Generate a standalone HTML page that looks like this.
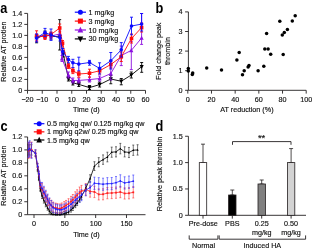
<!DOCTYPE html>
<html><head><meta charset="utf-8"><style>
html,body{margin:0;padding:0;background:#fff;}
svg{display:block;font-family:"Liberation Sans",sans-serif;will-change:transform;filter:blur(0.25px);}
</style></head><body>
<svg width="312" height="250" viewBox="0 0 312 250">
<rect width="312" height="250" fill="#fff"/>
<text x="0" y="0" font-size="14.5" font-weight="bold" fill="#000" transform="translate(0.2 12.6) scale(0.88 1)">a</text>
<line x1="27.60" y1="13.40" x2="27.60" y2="90.40" stroke="#231f20" stroke-width="0.9"/>
<line x1="27.60" y1="90.40" x2="145.50" y2="90.40" stroke="#231f20" stroke-width="0.9"/>
<line x1="24.30" y1="90.40" x2="27.60" y2="90.40" stroke="#231f20" stroke-width="0.9"/>
<text x="22.30" y="92.90" font-size="7.2" text-anchor="end" font-weight="normal" fill="#111" stroke="#111" stroke-width="0.15">0</text>
<line x1="24.30" y1="79.40" x2="27.60" y2="79.40" stroke="#231f20" stroke-width="0.9"/>
<text x="22.30" y="81.90" font-size="7.2" text-anchor="end" font-weight="normal" fill="#111" stroke="#111" stroke-width="0.15">0.2</text>
<line x1="24.30" y1="68.40" x2="27.60" y2="68.40" stroke="#231f20" stroke-width="0.9"/>
<text x="22.30" y="70.90" font-size="7.2" text-anchor="end" font-weight="normal" fill="#111" stroke="#111" stroke-width="0.15">0.4</text>
<line x1="24.30" y1="57.40" x2="27.60" y2="57.40" stroke="#231f20" stroke-width="0.9"/>
<text x="22.30" y="59.90" font-size="7.2" text-anchor="end" font-weight="normal" fill="#111" stroke="#111" stroke-width="0.15">0.6</text>
<line x1="24.30" y1="46.40" x2="27.60" y2="46.40" stroke="#231f20" stroke-width="0.9"/>
<text x="22.30" y="48.90" font-size="7.2" text-anchor="end" font-weight="normal" fill="#111" stroke="#111" stroke-width="0.15">0.8</text>
<line x1="24.30" y1="35.40" x2="27.60" y2="35.40" stroke="#231f20" stroke-width="0.9"/>
<text x="22.30" y="37.90" font-size="7.2" text-anchor="end" font-weight="normal" fill="#111" stroke="#111" stroke-width="0.15">1.0</text>
<line x1="24.30" y1="24.40" x2="27.60" y2="24.40" stroke="#231f20" stroke-width="0.9"/>
<text x="22.30" y="26.90" font-size="7.2" text-anchor="end" font-weight="normal" fill="#111" stroke="#111" stroke-width="0.15">1.2</text>
<line x1="24.30" y1="13.40" x2="27.60" y2="13.40" stroke="#231f20" stroke-width="0.9"/>
<text x="22.30" y="15.90" font-size="7.2" text-anchor="end" font-weight="normal" fill="#111" stroke="#111" stroke-width="0.15">1.4</text>
<line x1="27.50" y1="90.40" x2="27.50" y2="93.70" stroke="#231f20" stroke-width="0.9"/>
<text x="27.50" y="101.80" font-size="7.2" text-anchor="middle" font-weight="normal" fill="#111" stroke="#111" stroke-width="0.15">−20</text>
<line x1="42.25" y1="90.40" x2="42.25" y2="93.70" stroke="#231f20" stroke-width="0.9"/>
<text x="42.25" y="101.80" font-size="7.2" text-anchor="middle" font-weight="normal" fill="#111" stroke="#111" stroke-width="0.15">−10</text>
<line x1="57.00" y1="90.40" x2="57.00" y2="93.70" stroke="#231f20" stroke-width="0.9"/>
<text x="57.00" y="101.80" font-size="7.2" text-anchor="middle" font-weight="normal" fill="#111" stroke="#111" stroke-width="0.15">0</text>
<line x1="71.75" y1="90.40" x2="71.75" y2="93.70" stroke="#231f20" stroke-width="0.9"/>
<text x="71.75" y="101.80" font-size="7.2" text-anchor="middle" font-weight="normal" fill="#111" stroke="#111" stroke-width="0.15">10</text>
<line x1="86.50" y1="90.40" x2="86.50" y2="93.70" stroke="#231f20" stroke-width="0.9"/>
<text x="86.50" y="101.80" font-size="7.2" text-anchor="middle" font-weight="normal" fill="#111" stroke="#111" stroke-width="0.15">20</text>
<line x1="101.25" y1="90.40" x2="101.25" y2="93.70" stroke="#231f20" stroke-width="0.9"/>
<text x="101.25" y="101.80" font-size="7.2" text-anchor="middle" font-weight="normal" fill="#111" stroke="#111" stroke-width="0.15">30</text>
<line x1="116.00" y1="90.40" x2="116.00" y2="93.70" stroke="#231f20" stroke-width="0.9"/>
<text x="116.00" y="101.80" font-size="7.2" text-anchor="middle" font-weight="normal" fill="#111" stroke="#111" stroke-width="0.15">40</text>
<line x1="130.75" y1="90.40" x2="130.75" y2="93.70" stroke="#231f20" stroke-width="0.9"/>
<text x="130.75" y="101.80" font-size="7.2" text-anchor="middle" font-weight="normal" fill="#111" stroke="#111" stroke-width="0.15">50</text>
<line x1="145.50" y1="90.40" x2="145.50" y2="93.70" stroke="#231f20" stroke-width="0.9"/>
<text x="145.50" y="101.80" font-size="7.2" text-anchor="middle" font-weight="normal" fill="#111" stroke="#111" stroke-width="0.15">60</text>
<text x="86.30" y="111.50" font-size="7.2" text-anchor="middle" font-weight="normal" fill="#111" stroke="#111" stroke-width="0.15">Time (d)</text>
<text x="6.00" y="51.60" font-size="7.2" text-anchor="middle" font-weight="normal" fill="#111" stroke="#111" stroke-width="0.15" transform="rotate(-90 6.0 51.6)">Relative AT protien</text>
<line x1="74.80" y1="12.20" x2="86.00" y2="12.20" stroke="#0a0aff" stroke-width="1.2"/>
<circle cx="80.40" cy="12.20" r="2.5" fill="#0a0aff"/>
<text x="88.60" y="14.70" font-size="7.2" text-anchor="start" font-weight="normal" fill="#111" stroke="#111" stroke-width="0.15">1 mg/kg</text>
<line x1="74.80" y1="21.10" x2="86.00" y2="21.10" stroke="#ff0a0a" stroke-width="1.2"/>
<rect x="77.90" y="18.60" width="5.00" height="5.00" fill="#ff0a0a"/>
<text x="88.60" y="23.60" font-size="7.2" text-anchor="start" font-weight="normal" fill="#111" stroke="#111" stroke-width="0.15">3 mg/kg</text>
<line x1="74.80" y1="30.00" x2="86.00" y2="30.00" stroke="#8c10e0" stroke-width="1.2"/>
<polygon points="80.40,26.75 83.28,32.50 77.53,32.50" fill="#8c10e0"/>
<text x="88.60" y="32.50" font-size="7.2" text-anchor="start" font-weight="normal" fill="#111" stroke="#111" stroke-width="0.15">10 mg/kg</text>
<line x1="74.80" y1="38.90" x2="86.00" y2="38.90" stroke="#000000" stroke-width="1.2"/>
<polygon points="80.40,42.15 83.28,36.40 77.53,36.40" fill="#000000"/>
<text x="88.60" y="41.40" font-size="7.2" text-anchor="start" font-weight="normal" fill="#111" stroke="#111" stroke-width="0.15">30 mg/kg</text>
<line x1="36.60" y1="35.00" x2="36.60" y2="42.80" stroke="#000000" stroke-width="0.9"/>
<line x1="35.10" y1="35.00" x2="38.10" y2="35.00" stroke="#000000" stroke-width="0.9"/>
<line x1="35.10" y1="42.80" x2="38.10" y2="42.80" stroke="#000000" stroke-width="0.9"/>
<line x1="45.00" y1="31.00" x2="45.00" y2="38.00" stroke="#000000" stroke-width="0.9"/>
<line x1="43.50" y1="31.00" x2="46.50" y2="31.00" stroke="#000000" stroke-width="0.9"/>
<line x1="43.50" y1="38.00" x2="46.50" y2="38.00" stroke="#000000" stroke-width="0.9"/>
<line x1="51.00" y1="33.00" x2="51.00" y2="39.00" stroke="#000000" stroke-width="0.9"/>
<line x1="49.50" y1="33.00" x2="52.50" y2="33.00" stroke="#000000" stroke-width="0.9"/>
<line x1="49.50" y1="39.00" x2="52.50" y2="39.00" stroke="#000000" stroke-width="0.9"/>
<line x1="59.70" y1="19.60" x2="59.70" y2="50.00" stroke="#000000" stroke-width="0.9"/>
<line x1="58.20" y1="19.60" x2="61.20" y2="19.60" stroke="#000000" stroke-width="0.9"/>
<line x1="58.20" y1="50.00" x2="61.20" y2="50.00" stroke="#000000" stroke-width="0.9"/>
<line x1="63.30" y1="51.00" x2="63.30" y2="57.00" stroke="#000000" stroke-width="0.9"/>
<line x1="61.80" y1="51.00" x2="64.80" y2="51.00" stroke="#000000" stroke-width="0.9"/>
<line x1="61.80" y1="57.00" x2="64.80" y2="57.00" stroke="#000000" stroke-width="0.9"/>
<line x1="68.40" y1="76.50" x2="68.40" y2="81.00" stroke="#000000" stroke-width="0.9"/>
<line x1="66.90" y1="76.50" x2="69.90" y2="76.50" stroke="#000000" stroke-width="0.9"/>
<line x1="66.90" y1="81.00" x2="69.90" y2="81.00" stroke="#000000" stroke-width="0.9"/>
<line x1="72.90" y1="80.50" x2="72.90" y2="85.00" stroke="#000000" stroke-width="0.9"/>
<line x1="71.40" y1="80.50" x2="74.40" y2="80.50" stroke="#000000" stroke-width="0.9"/>
<line x1="71.40" y1="85.00" x2="74.40" y2="85.00" stroke="#000000" stroke-width="0.9"/>
<line x1="78.80" y1="82.00" x2="78.80" y2="86.50" stroke="#000000" stroke-width="0.9"/>
<line x1="77.30" y1="82.00" x2="80.30" y2="82.00" stroke="#000000" stroke-width="0.9"/>
<line x1="77.30" y1="86.50" x2="80.30" y2="86.50" stroke="#000000" stroke-width="0.9"/>
<line x1="89.50" y1="85.50" x2="89.50" y2="89.50" stroke="#000000" stroke-width="0.9"/>
<line x1="88.00" y1="85.50" x2="91.00" y2="85.50" stroke="#000000" stroke-width="0.9"/>
<line x1="88.00" y1="89.50" x2="91.00" y2="89.50" stroke="#000000" stroke-width="0.9"/>
<line x1="99.60" y1="82.00" x2="99.60" y2="87.00" stroke="#000000" stroke-width="0.9"/>
<line x1="98.10" y1="82.00" x2="101.10" y2="82.00" stroke="#000000" stroke-width="0.9"/>
<line x1="98.10" y1="87.00" x2="101.10" y2="87.00" stroke="#000000" stroke-width="0.9"/>
<line x1="110.80" y1="75.40" x2="110.80" y2="83.75" stroke="#000000" stroke-width="0.9"/>
<line x1="109.30" y1="75.40" x2="112.30" y2="75.40" stroke="#000000" stroke-width="0.9"/>
<line x1="109.30" y1="83.75" x2="112.30" y2="83.75" stroke="#000000" stroke-width="0.9"/>
<line x1="121.25" y1="78.50" x2="121.25" y2="84.80" stroke="#000000" stroke-width="0.9"/>
<line x1="119.75" y1="78.50" x2="122.75" y2="78.50" stroke="#000000" stroke-width="0.9"/>
<line x1="119.75" y1="84.80" x2="122.75" y2="84.80" stroke="#000000" stroke-width="0.9"/>
<line x1="131.30" y1="72.00" x2="131.30" y2="78.00" stroke="#000000" stroke-width="0.9"/>
<line x1="129.80" y1="72.00" x2="132.80" y2="72.00" stroke="#000000" stroke-width="0.9"/>
<line x1="129.80" y1="78.00" x2="132.80" y2="78.00" stroke="#000000" stroke-width="0.9"/>
<line x1="141.70" y1="62.50" x2="141.70" y2="72.30" stroke="#000000" stroke-width="0.9"/>
<line x1="140.20" y1="62.50" x2="143.20" y2="62.50" stroke="#000000" stroke-width="0.9"/>
<line x1="140.20" y1="72.30" x2="143.20" y2="72.30" stroke="#000000" stroke-width="0.9"/>
<polyline points="36.60,38.50 45.00,34.50 51.00,36.00 59.70,37.00 63.30,54.00 68.40,78.80 72.90,82.80 78.80,84.40 89.50,87.60 99.60,84.60 110.80,79.00 121.25,81.25 131.30,75.00 141.70,66.70" fill="none" stroke="#000000" stroke-width="0.9" stroke-linejoin="round"/>
<polygon points="36.60,40.84 38.67,36.70 34.53,36.70" fill="#000000"/>
<polygon points="45.00,36.84 47.07,32.70 42.93,32.70" fill="#000000"/>
<polygon points="51.00,38.34 53.07,34.20 48.93,34.20" fill="#000000"/>
<polygon points="59.70,39.34 61.77,35.20 57.63,35.20" fill="#000000"/>
<polygon points="63.30,56.34 65.37,52.20 61.23,52.20" fill="#000000"/>
<polygon points="68.40,81.14 70.47,77.00 66.33,77.00" fill="#000000"/>
<polygon points="72.90,85.14 74.97,81.00 70.83,81.00" fill="#000000"/>
<polygon points="78.80,86.74 80.87,82.60 76.73,82.60" fill="#000000"/>
<polygon points="89.50,89.94 91.57,85.80 87.43,85.80" fill="#000000"/>
<polygon points="99.60,86.94 101.67,82.80 97.53,82.80" fill="#000000"/>
<polygon points="110.80,81.34 112.87,77.20 108.73,77.20" fill="#000000"/>
<polygon points="121.25,83.59 123.32,79.45 119.18,79.45" fill="#000000"/>
<polygon points="131.30,77.34 133.37,73.20 129.23,73.20" fill="#000000"/>
<polygon points="141.70,69.04 143.77,64.90 139.63,64.90" fill="#000000"/>
<line x1="36.60" y1="34.00" x2="36.60" y2="41.00" stroke="#8c10e0" stroke-width="0.9"/>
<line x1="35.10" y1="34.00" x2="38.10" y2="34.00" stroke="#8c10e0" stroke-width="0.9"/>
<line x1="35.10" y1="41.00" x2="38.10" y2="41.00" stroke="#8c10e0" stroke-width="0.9"/>
<line x1="45.00" y1="32.00" x2="45.00" y2="38.00" stroke="#8c10e0" stroke-width="0.9"/>
<line x1="43.50" y1="32.00" x2="46.50" y2="32.00" stroke="#8c10e0" stroke-width="0.9"/>
<line x1="43.50" y1="38.00" x2="46.50" y2="38.00" stroke="#8c10e0" stroke-width="0.9"/>
<line x1="51.00" y1="33.00" x2="51.00" y2="39.00" stroke="#8c10e0" stroke-width="0.9"/>
<line x1="49.50" y1="33.00" x2="52.50" y2="33.00" stroke="#8c10e0" stroke-width="0.9"/>
<line x1="49.50" y1="39.00" x2="52.50" y2="39.00" stroke="#8c10e0" stroke-width="0.9"/>
<line x1="59.70" y1="31.00" x2="59.70" y2="37.00" stroke="#8c10e0" stroke-width="0.9"/>
<line x1="58.20" y1="31.00" x2="61.20" y2="31.00" stroke="#8c10e0" stroke-width="0.9"/>
<line x1="58.20" y1="37.00" x2="61.20" y2="37.00" stroke="#8c10e0" stroke-width="0.9"/>
<line x1="62.00" y1="55.50" x2="62.00" y2="61.50" stroke="#8c10e0" stroke-width="0.9"/>
<line x1="60.50" y1="55.50" x2="63.50" y2="55.50" stroke="#8c10e0" stroke-width="0.9"/>
<line x1="60.50" y1="61.50" x2="63.50" y2="61.50" stroke="#8c10e0" stroke-width="0.9"/>
<line x1="68.40" y1="72.00" x2="68.40" y2="78.00" stroke="#8c10e0" stroke-width="0.9"/>
<line x1="66.90" y1="72.00" x2="69.90" y2="72.00" stroke="#8c10e0" stroke-width="0.9"/>
<line x1="66.90" y1="78.00" x2="69.90" y2="78.00" stroke="#8c10e0" stroke-width="0.9"/>
<line x1="72.90" y1="78.00" x2="72.90" y2="83.00" stroke="#8c10e0" stroke-width="0.9"/>
<line x1="71.40" y1="78.00" x2="74.40" y2="78.00" stroke="#8c10e0" stroke-width="0.9"/>
<line x1="71.40" y1="83.00" x2="74.40" y2="83.00" stroke="#8c10e0" stroke-width="0.9"/>
<line x1="78.80" y1="78.00" x2="78.80" y2="83.00" stroke="#8c10e0" stroke-width="0.9"/>
<line x1="77.30" y1="78.00" x2="80.30" y2="78.00" stroke="#8c10e0" stroke-width="0.9"/>
<line x1="77.30" y1="83.00" x2="80.30" y2="83.00" stroke="#8c10e0" stroke-width="0.9"/>
<line x1="89.50" y1="77.00" x2="89.50" y2="82.00" stroke="#8c10e0" stroke-width="0.9"/>
<line x1="88.00" y1="77.00" x2="91.00" y2="77.00" stroke="#8c10e0" stroke-width="0.9"/>
<line x1="88.00" y1="82.00" x2="91.00" y2="82.00" stroke="#8c10e0" stroke-width="0.9"/>
<line x1="99.60" y1="76.00" x2="99.60" y2="81.00" stroke="#8c10e0" stroke-width="0.9"/>
<line x1="98.10" y1="76.00" x2="101.10" y2="76.00" stroke="#8c10e0" stroke-width="0.9"/>
<line x1="98.10" y1="81.00" x2="101.10" y2="81.00" stroke="#8c10e0" stroke-width="0.9"/>
<line x1="110.80" y1="67.00" x2="110.80" y2="80.00" stroke="#8c10e0" stroke-width="0.9"/>
<line x1="109.30" y1="67.00" x2="112.30" y2="67.00" stroke="#8c10e0" stroke-width="0.9"/>
<line x1="109.30" y1="80.00" x2="112.30" y2="80.00" stroke="#8c10e0" stroke-width="0.9"/>
<line x1="121.25" y1="46.00" x2="121.25" y2="65.60" stroke="#8c10e0" stroke-width="0.9"/>
<line x1="119.75" y1="46.00" x2="122.75" y2="46.00" stroke="#8c10e0" stroke-width="0.9"/>
<line x1="119.75" y1="65.60" x2="122.75" y2="65.60" stroke="#8c10e0" stroke-width="0.9"/>
<line x1="131.30" y1="41.60" x2="131.30" y2="69.60" stroke="#8c10e0" stroke-width="0.9"/>
<line x1="129.80" y1="41.60" x2="132.80" y2="41.60" stroke="#8c10e0" stroke-width="0.9"/>
<line x1="129.80" y1="69.60" x2="132.80" y2="69.60" stroke="#8c10e0" stroke-width="0.9"/>
<line x1="141.60" y1="13.50" x2="141.60" y2="44.40" stroke="#8c10e0" stroke-width="0.9"/>
<line x1="140.10" y1="13.50" x2="143.10" y2="13.50" stroke="#8c10e0" stroke-width="0.9"/>
<line x1="140.10" y1="44.40" x2="143.10" y2="44.40" stroke="#8c10e0" stroke-width="0.9"/>
<polyline points="36.60,37.50 45.00,35.00 51.00,36.00 59.70,34.00 62.00,58.60 68.40,75.00 72.90,80.50 78.80,80.40 89.50,79.60 99.60,78.50 110.80,73.60 121.25,55.50 131.30,50.40 141.60,38.00" fill="none" stroke="#8c10e0" stroke-width="0.9" stroke-linejoin="round"/>
<polygon points="36.60,35.16 38.67,39.30 34.53,39.30" fill="#8c10e0"/>
<polygon points="45.00,32.66 47.07,36.80 42.93,36.80" fill="#8c10e0"/>
<polygon points="51.00,33.66 53.07,37.80 48.93,37.80" fill="#8c10e0"/>
<polygon points="59.70,31.66 61.77,35.80 57.63,35.80" fill="#8c10e0"/>
<polygon points="62.00,56.26 64.07,60.40 59.93,60.40" fill="#8c10e0"/>
<polygon points="68.40,72.66 70.47,76.80 66.33,76.80" fill="#8c10e0"/>
<polygon points="72.90,78.16 74.97,82.30 70.83,82.30" fill="#8c10e0"/>
<polygon points="78.80,78.06 80.87,82.20 76.73,82.20" fill="#8c10e0"/>
<polygon points="89.50,77.26 91.57,81.40 87.43,81.40" fill="#8c10e0"/>
<polygon points="99.60,76.16 101.67,80.30 97.53,80.30" fill="#8c10e0"/>
<polygon points="110.80,71.26 112.87,75.40 108.73,75.40" fill="#8c10e0"/>
<polygon points="121.25,53.16 123.32,57.30 119.18,57.30" fill="#8c10e0"/>
<polygon points="131.30,48.06 133.37,52.20 129.23,52.20" fill="#8c10e0"/>
<polygon points="141.60,35.66 143.67,39.80 139.53,39.80" fill="#8c10e0"/>
<line x1="36.60" y1="30.80" x2="36.60" y2="41.00" stroke="#ff0a0a" stroke-width="0.9"/>
<line x1="35.10" y1="30.80" x2="38.10" y2="30.80" stroke="#ff0a0a" stroke-width="0.9"/>
<line x1="35.10" y1="41.00" x2="38.10" y2="41.00" stroke="#ff0a0a" stroke-width="0.9"/>
<line x1="45.00" y1="34.00" x2="45.00" y2="39.50" stroke="#ff0a0a" stroke-width="0.9"/>
<line x1="43.50" y1="34.00" x2="46.50" y2="34.00" stroke="#ff0a0a" stroke-width="0.9"/>
<line x1="43.50" y1="39.50" x2="46.50" y2="39.50" stroke="#ff0a0a" stroke-width="0.9"/>
<line x1="51.00" y1="32.00" x2="51.00" y2="37.00" stroke="#ff0a0a" stroke-width="0.9"/>
<line x1="49.50" y1="32.00" x2="52.50" y2="32.00" stroke="#ff0a0a" stroke-width="0.9"/>
<line x1="49.50" y1="37.00" x2="52.50" y2="37.00" stroke="#ff0a0a" stroke-width="0.9"/>
<line x1="59.70" y1="24.00" x2="59.70" y2="32.00" stroke="#ff0a0a" stroke-width="0.9"/>
<line x1="58.20" y1="24.00" x2="61.20" y2="24.00" stroke="#ff0a0a" stroke-width="0.9"/>
<line x1="58.20" y1="32.00" x2="61.20" y2="32.00" stroke="#ff0a0a" stroke-width="0.9"/>
<line x1="62.50" y1="40.50" x2="62.50" y2="46.00" stroke="#ff0a0a" stroke-width="0.9"/>
<line x1="61.00" y1="40.50" x2="64.00" y2="40.50" stroke="#ff0a0a" stroke-width="0.9"/>
<line x1="61.00" y1="46.00" x2="64.00" y2="46.00" stroke="#ff0a0a" stroke-width="0.9"/>
<line x1="68.40" y1="63.60" x2="68.40" y2="68.50" stroke="#ff0a0a" stroke-width="0.9"/>
<line x1="66.90" y1="63.60" x2="69.90" y2="63.60" stroke="#ff0a0a" stroke-width="0.9"/>
<line x1="66.90" y1="68.50" x2="69.90" y2="68.50" stroke="#ff0a0a" stroke-width="0.9"/>
<line x1="72.90" y1="68.00" x2="72.90" y2="73.60" stroke="#ff0a0a" stroke-width="0.9"/>
<line x1="71.40" y1="68.00" x2="74.40" y2="68.00" stroke="#ff0a0a" stroke-width="0.9"/>
<line x1="71.40" y1="73.60" x2="74.40" y2="73.60" stroke="#ff0a0a" stroke-width="0.9"/>
<line x1="78.80" y1="71.60" x2="78.80" y2="77.20" stroke="#ff0a0a" stroke-width="0.9"/>
<line x1="77.30" y1="71.60" x2="80.30" y2="71.60" stroke="#ff0a0a" stroke-width="0.9"/>
<line x1="77.30" y1="77.20" x2="80.30" y2="77.20" stroke="#ff0a0a" stroke-width="0.9"/>
<line x1="89.50" y1="69.20" x2="89.50" y2="77.20" stroke="#ff0a0a" stroke-width="0.9"/>
<line x1="88.00" y1="69.20" x2="91.00" y2="69.20" stroke="#ff0a0a" stroke-width="0.9"/>
<line x1="88.00" y1="77.20" x2="91.00" y2="77.20" stroke="#ff0a0a" stroke-width="0.9"/>
<line x1="99.60" y1="67.50" x2="99.60" y2="74.00" stroke="#ff0a0a" stroke-width="0.9"/>
<line x1="98.10" y1="67.50" x2="101.10" y2="67.50" stroke="#ff0a0a" stroke-width="0.9"/>
<line x1="98.10" y1="74.00" x2="101.10" y2="74.00" stroke="#ff0a0a" stroke-width="0.9"/>
<line x1="110.80" y1="61.00" x2="110.80" y2="68.00" stroke="#ff0a0a" stroke-width="0.9"/>
<line x1="109.30" y1="61.00" x2="112.30" y2="61.00" stroke="#ff0a0a" stroke-width="0.9"/>
<line x1="109.30" y1="68.00" x2="112.30" y2="68.00" stroke="#ff0a0a" stroke-width="0.9"/>
<line x1="121.25" y1="52.00" x2="121.25" y2="61.50" stroke="#ff0a0a" stroke-width="0.9"/>
<line x1="119.75" y1="52.00" x2="122.75" y2="52.00" stroke="#ff0a0a" stroke-width="0.9"/>
<line x1="119.75" y1="61.50" x2="122.75" y2="61.50" stroke="#ff0a0a" stroke-width="0.9"/>
<line x1="131.50" y1="34.00" x2="131.50" y2="43.00" stroke="#ff0a0a" stroke-width="0.9"/>
<line x1="130.00" y1="34.00" x2="133.00" y2="34.00" stroke="#ff0a0a" stroke-width="0.9"/>
<line x1="130.00" y1="43.00" x2="133.00" y2="43.00" stroke="#ff0a0a" stroke-width="0.9"/>
<line x1="141.60" y1="23.00" x2="141.60" y2="32.00" stroke="#ff0a0a" stroke-width="0.9"/>
<line x1="140.10" y1="23.00" x2="143.10" y2="23.00" stroke="#ff0a0a" stroke-width="0.9"/>
<line x1="140.10" y1="32.00" x2="143.10" y2="32.00" stroke="#ff0a0a" stroke-width="0.9"/>
<polyline points="36.60,36.00 45.00,36.80 51.00,34.50 59.70,28.00 62.50,43.20 68.40,66.00 72.90,70.80 78.80,74.00 89.50,73.20 99.60,70.80 110.80,64.50 121.25,56.80 131.50,38.50 141.60,27.60" fill="none" stroke="#ff0a0a" stroke-width="0.9" stroke-linejoin="round"/>
<rect x="34.80" y="34.20" width="3.60" height="3.60" fill="#ff0a0a"/>
<rect x="43.20" y="35.00" width="3.60" height="3.60" fill="#ff0a0a"/>
<rect x="49.20" y="32.70" width="3.60" height="3.60" fill="#ff0a0a"/>
<rect x="57.90" y="26.20" width="3.60" height="3.60" fill="#ff0a0a"/>
<rect x="60.70" y="41.40" width="3.60" height="3.60" fill="#ff0a0a"/>
<rect x="66.60" y="64.20" width="3.60" height="3.60" fill="#ff0a0a"/>
<rect x="71.10" y="69.00" width="3.60" height="3.60" fill="#ff0a0a"/>
<rect x="77.00" y="72.20" width="3.60" height="3.60" fill="#ff0a0a"/>
<rect x="87.70" y="71.40" width="3.60" height="3.60" fill="#ff0a0a"/>
<rect x="97.80" y="69.00" width="3.60" height="3.60" fill="#ff0a0a"/>
<rect x="109.00" y="62.70" width="3.60" height="3.60" fill="#ff0a0a"/>
<rect x="119.45" y="55.00" width="3.60" height="3.60" fill="#ff0a0a"/>
<rect x="129.70" y="36.70" width="3.60" height="3.60" fill="#ff0a0a"/>
<rect x="139.80" y="25.80" width="3.60" height="3.60" fill="#ff0a0a"/>
<line x1="36.60" y1="34.00" x2="36.60" y2="42.00" stroke="#0a0aff" stroke-width="0.9"/>
<line x1="35.10" y1="34.00" x2="38.10" y2="34.00" stroke="#0a0aff" stroke-width="0.9"/>
<line x1="35.10" y1="42.00" x2="38.10" y2="42.00" stroke="#0a0aff" stroke-width="0.9"/>
<line x1="45.00" y1="28.40" x2="45.00" y2="36.50" stroke="#0a0aff" stroke-width="0.9"/>
<line x1="43.50" y1="28.40" x2="46.50" y2="28.40" stroke="#0a0aff" stroke-width="0.9"/>
<line x1="43.50" y1="36.50" x2="46.50" y2="36.50" stroke="#0a0aff" stroke-width="0.9"/>
<line x1="51.00" y1="29.00" x2="51.00" y2="40.40" stroke="#0a0aff" stroke-width="0.9"/>
<line x1="49.50" y1="29.00" x2="52.50" y2="29.00" stroke="#0a0aff" stroke-width="0.9"/>
<line x1="49.50" y1="40.40" x2="52.50" y2="40.40" stroke="#0a0aff" stroke-width="0.9"/>
<line x1="60.00" y1="35.00" x2="60.00" y2="41.00" stroke="#0a0aff" stroke-width="0.9"/>
<line x1="58.50" y1="35.00" x2="61.50" y2="35.00" stroke="#0a0aff" stroke-width="0.9"/>
<line x1="58.50" y1="41.00" x2="61.50" y2="41.00" stroke="#0a0aff" stroke-width="0.9"/>
<line x1="62.80" y1="48.50" x2="62.80" y2="55.00" stroke="#0a0aff" stroke-width="0.9"/>
<line x1="61.30" y1="48.50" x2="64.30" y2="48.50" stroke="#0a0aff" stroke-width="0.9"/>
<line x1="61.30" y1="55.00" x2="64.30" y2="55.00" stroke="#0a0aff" stroke-width="0.9"/>
<line x1="68.40" y1="56.40" x2="68.40" y2="62.80" stroke="#0a0aff" stroke-width="0.9"/>
<line x1="66.90" y1="56.40" x2="69.90" y2="56.40" stroke="#0a0aff" stroke-width="0.9"/>
<line x1="66.90" y1="62.80" x2="69.90" y2="62.80" stroke="#0a0aff" stroke-width="0.9"/>
<line x1="72.90" y1="59.30" x2="72.90" y2="67.60" stroke="#0a0aff" stroke-width="0.9"/>
<line x1="71.40" y1="59.30" x2="74.40" y2="59.30" stroke="#0a0aff" stroke-width="0.9"/>
<line x1="71.40" y1="67.60" x2="74.40" y2="67.60" stroke="#0a0aff" stroke-width="0.9"/>
<line x1="78.80" y1="57.20" x2="78.80" y2="70.80" stroke="#0a0aff" stroke-width="0.9"/>
<line x1="77.30" y1="57.20" x2="80.30" y2="57.20" stroke="#0a0aff" stroke-width="0.9"/>
<line x1="77.30" y1="70.80" x2="80.30" y2="70.80" stroke="#0a0aff" stroke-width="0.9"/>
<line x1="89.50" y1="60.40" x2="89.50" y2="65.20" stroke="#0a0aff" stroke-width="0.9"/>
<line x1="88.00" y1="60.40" x2="91.00" y2="60.40" stroke="#0a0aff" stroke-width="0.9"/>
<line x1="88.00" y1="65.20" x2="91.00" y2="65.20" stroke="#0a0aff" stroke-width="0.9"/>
<line x1="99.60" y1="62.80" x2="99.60" y2="74.00" stroke="#0a0aff" stroke-width="0.9"/>
<line x1="98.10" y1="62.80" x2="101.10" y2="62.80" stroke="#0a0aff" stroke-width="0.9"/>
<line x1="98.10" y1="74.00" x2="101.10" y2="74.00" stroke="#0a0aff" stroke-width="0.9"/>
<line x1="110.80" y1="52.50" x2="110.80" y2="69.00" stroke="#0a0aff" stroke-width="0.9"/>
<line x1="109.30" y1="52.50" x2="112.30" y2="52.50" stroke="#0a0aff" stroke-width="0.9"/>
<line x1="109.30" y1="69.00" x2="112.30" y2="69.00" stroke="#0a0aff" stroke-width="0.9"/>
<line x1="121.25" y1="42.60" x2="121.25" y2="57.00" stroke="#0a0aff" stroke-width="0.9"/>
<line x1="119.75" y1="42.60" x2="122.75" y2="42.60" stroke="#0a0aff" stroke-width="0.9"/>
<line x1="119.75" y1="57.00" x2="122.75" y2="57.00" stroke="#0a0aff" stroke-width="0.9"/>
<line x1="131.50" y1="17.20" x2="131.50" y2="34.80" stroke="#0a0aff" stroke-width="0.9"/>
<line x1="130.00" y1="17.20" x2="133.00" y2="17.20" stroke="#0a0aff" stroke-width="0.9"/>
<line x1="130.00" y1="34.80" x2="133.00" y2="34.80" stroke="#0a0aff" stroke-width="0.9"/>
<line x1="141.60" y1="13.50" x2="141.60" y2="31.00" stroke="#0a0aff" stroke-width="0.9"/>
<line x1="140.10" y1="13.50" x2="143.10" y2="13.50" stroke="#0a0aff" stroke-width="0.9"/>
<line x1="140.10" y1="31.00" x2="143.10" y2="31.00" stroke="#0a0aff" stroke-width="0.9"/>
<polyline points="36.60,38.00 45.00,32.50 51.00,35.00 60.00,38.00 62.80,51.60 68.40,59.60 72.90,62.80 78.80,64.10 89.50,62.50 99.60,68.40 110.80,60.80 121.25,49.80 131.50,26.00 141.60,24.10" fill="none" stroke="#0a0aff" stroke-width="0.9" stroke-linejoin="round"/>
<circle cx="36.60" cy="38.00" r="1.8" fill="#0a0aff"/>
<circle cx="45.00" cy="32.50" r="1.8" fill="#0a0aff"/>
<circle cx="51.00" cy="35.00" r="1.8" fill="#0a0aff"/>
<circle cx="60.00" cy="38.00" r="1.8" fill="#0a0aff"/>
<circle cx="62.80" cy="51.60" r="1.8" fill="#0a0aff"/>
<circle cx="68.40" cy="59.60" r="1.8" fill="#0a0aff"/>
<circle cx="72.90" cy="62.80" r="1.8" fill="#0a0aff"/>
<circle cx="78.80" cy="64.10" r="1.8" fill="#0a0aff"/>
<circle cx="89.50" cy="62.50" r="1.8" fill="#0a0aff"/>
<circle cx="99.60" cy="68.40" r="1.8" fill="#0a0aff"/>
<circle cx="110.80" cy="60.80" r="1.8" fill="#0a0aff"/>
<circle cx="121.25" cy="49.80" r="1.8" fill="#0a0aff"/>
<circle cx="131.50" cy="26.00" r="1.8" fill="#0a0aff"/>
<circle cx="141.60" cy="24.10" r="1.8" fill="#0a0aff"/>
<text x="0" y="0" font-size="14.5" font-weight="bold" fill="#000" transform="translate(155.6 12.6) scale(0.88 1)">b</text>
<line x1="188.40" y1="11.90" x2="188.40" y2="90.30" stroke="#231f20" stroke-width="0.9"/>
<line x1="188.40" y1="90.30" x2="306.20" y2="90.30" stroke="#231f20" stroke-width="0.9"/>
<line x1="185.10" y1="90.30" x2="188.40" y2="90.30" stroke="#231f20" stroke-width="0.9"/>
<text x="182.50" y="92.80" font-size="7.2" text-anchor="end" font-weight="normal" fill="#111" stroke="#111" stroke-width="0.15">0</text>
<line x1="185.10" y1="70.70" x2="188.40" y2="70.70" stroke="#231f20" stroke-width="0.9"/>
<text x="182.50" y="73.20" font-size="7.2" text-anchor="end" font-weight="normal" fill="#111" stroke="#111" stroke-width="0.15">1</text>
<line x1="185.10" y1="51.10" x2="188.40" y2="51.10" stroke="#231f20" stroke-width="0.9"/>
<text x="182.50" y="53.60" font-size="7.2" text-anchor="end" font-weight="normal" fill="#111" stroke="#111" stroke-width="0.15">2</text>
<line x1="185.10" y1="31.50" x2="188.40" y2="31.50" stroke="#231f20" stroke-width="0.9"/>
<text x="182.50" y="34.00" font-size="7.2" text-anchor="end" font-weight="normal" fill="#111" stroke="#111" stroke-width="0.15">3</text>
<line x1="185.10" y1="11.90" x2="188.40" y2="11.90" stroke="#231f20" stroke-width="0.9"/>
<text x="182.50" y="14.40" font-size="7.2" text-anchor="end" font-weight="normal" fill="#111" stroke="#111" stroke-width="0.15">4</text>
<line x1="187.80" y1="90.30" x2="187.80" y2="93.60" stroke="#231f20" stroke-width="0.9"/>
<text x="187.80" y="101.80" font-size="7.2" text-anchor="middle" font-weight="normal" fill="#111" stroke="#111" stroke-width="0.15">0</text>
<line x1="211.48" y1="90.30" x2="211.48" y2="93.60" stroke="#231f20" stroke-width="0.9"/>
<text x="211.48" y="101.80" font-size="7.2" text-anchor="middle" font-weight="normal" fill="#111" stroke="#111" stroke-width="0.15">20</text>
<line x1="235.16" y1="90.30" x2="235.16" y2="93.60" stroke="#231f20" stroke-width="0.9"/>
<text x="235.16" y="101.80" font-size="7.2" text-anchor="middle" font-weight="normal" fill="#111" stroke="#111" stroke-width="0.15">40</text>
<line x1="258.84" y1="90.30" x2="258.84" y2="93.60" stroke="#231f20" stroke-width="0.9"/>
<text x="258.84" y="101.80" font-size="7.2" text-anchor="middle" font-weight="normal" fill="#111" stroke="#111" stroke-width="0.15">60</text>
<line x1="282.52" y1="90.30" x2="282.52" y2="93.60" stroke="#231f20" stroke-width="0.9"/>
<text x="282.52" y="101.80" font-size="7.2" text-anchor="middle" font-weight="normal" fill="#111" stroke="#111" stroke-width="0.15">80</text>
<line x1="306.20" y1="90.30" x2="306.20" y2="93.60" stroke="#231f20" stroke-width="0.9"/>
<text x="306.20" y="101.80" font-size="7.2" text-anchor="middle" font-weight="normal" fill="#111" stroke="#111" stroke-width="0.15">100</text>
<text x="246.90" y="111.50" font-size="7.2" text-anchor="middle" font-weight="normal" fill="#111" stroke="#111" stroke-width="0.15">AT reduction (%)</text>
<text x="161.50" y="51.10" font-size="7.2" text-anchor="middle" font-weight="normal" fill="#111" stroke="#111" stroke-width="0.15" transform="rotate(-90 161.5 51.1)">Fold change peak</text>
<text x="169.80" y="51.10" font-size="7.2" text-anchor="middle" font-weight="normal" fill="#111" stroke="#111" stroke-width="0.15" transform="rotate(-90 169.8 51.1)">thrombin</text>
<circle cx="188.3" cy="68.5" r="1.75" fill="#000"/>
<circle cx="188.3" cy="71" r="1.75" fill="#000"/>
<circle cx="192.7" cy="72.9" r="1.75" fill="#000"/>
<circle cx="192.3" cy="74.4" r="1.75" fill="#000"/>
<circle cx="206.7" cy="68.1" r="1.75" fill="#000"/>
<circle cx="221.5" cy="70" r="1.75" fill="#000"/>
<circle cx="239.2" cy="52.4" r="1.75" fill="#000"/>
<circle cx="236.9" cy="59.9" r="1.75" fill="#000"/>
<circle cx="242.5" cy="74.7" r="1.75" fill="#000"/>
<circle cx="244.2" cy="70.7" r="1.75" fill="#000"/>
<circle cx="248.1" cy="66.9" r="1.75" fill="#000"/>
<circle cx="249" cy="65.6" r="1.75" fill="#000"/>
<circle cx="258.1" cy="70.8" r="1.75" fill="#000"/>
<circle cx="263.8" cy="66.3" r="1.75" fill="#000"/>
<circle cx="264.8" cy="49" r="1.75" fill="#000"/>
<circle cx="268.1" cy="49" r="1.75" fill="#000"/>
<circle cx="270.7" cy="54.3" r="1.75" fill="#000"/>
<circle cx="283.2" cy="54.5" r="1.75" fill="#000"/>
<circle cx="266.6" cy="33.6" r="1.75" fill="#000"/>
<circle cx="279.8" cy="21.2" r="1.75" fill="#000"/>
<circle cx="282.3" cy="35" r="1.75" fill="#000"/>
<circle cx="284.3" cy="32.4" r="1.75" fill="#000"/>
<circle cx="287.4" cy="29.5" r="1.75" fill="#000"/>
<circle cx="292.3" cy="21" r="1.75" fill="#000"/>
<circle cx="295.2" cy="15.7" r="1.75" fill="#000"/>
<text x="0" y="0" font-size="14.5" font-weight="bold" fill="#000" transform="translate(0.6 131) scale(0.88 1)">c</text>
<line x1="27.60" y1="136.94" x2="27.60" y2="214.70" stroke="#231f20" stroke-width="0.9"/>
<line x1="27.60" y1="214.70" x2="145.50" y2="214.70" stroke="#231f20" stroke-width="0.9"/>
<line x1="24.30" y1="214.70" x2="27.60" y2="214.70" stroke="#231f20" stroke-width="0.9"/>
<text x="22.30" y="217.20" font-size="7.2" text-anchor="end" font-weight="normal" fill="#111" stroke="#111" stroke-width="0.15">0</text>
<line x1="24.30" y1="201.74" x2="27.60" y2="201.74" stroke="#231f20" stroke-width="0.9"/>
<text x="22.30" y="204.24" font-size="7.2" text-anchor="end" font-weight="normal" fill="#111" stroke="#111" stroke-width="0.15">0.2</text>
<line x1="24.30" y1="188.78" x2="27.60" y2="188.78" stroke="#231f20" stroke-width="0.9"/>
<text x="22.30" y="191.28" font-size="7.2" text-anchor="end" font-weight="normal" fill="#111" stroke="#111" stroke-width="0.15">0.4</text>
<line x1="24.30" y1="175.82" x2="27.60" y2="175.82" stroke="#231f20" stroke-width="0.9"/>
<text x="22.30" y="178.32" font-size="7.2" text-anchor="end" font-weight="normal" fill="#111" stroke="#111" stroke-width="0.15">0.6</text>
<line x1="24.30" y1="162.86" x2="27.60" y2="162.86" stroke="#231f20" stroke-width="0.9"/>
<text x="22.30" y="165.36" font-size="7.2" text-anchor="end" font-weight="normal" fill="#111" stroke="#111" stroke-width="0.15">0.8</text>
<line x1="24.30" y1="149.90" x2="27.60" y2="149.90" stroke="#231f20" stroke-width="0.9"/>
<text x="22.30" y="152.40" font-size="7.2" text-anchor="end" font-weight="normal" fill="#111" stroke="#111" stroke-width="0.15">1.0</text>
<line x1="24.30" y1="136.94" x2="27.60" y2="136.94" stroke="#231f20" stroke-width="0.9"/>
<text x="22.30" y="139.44" font-size="7.2" text-anchor="end" font-weight="normal" fill="#111" stroke="#111" stroke-width="0.15">1.2</text>
<line x1="34.00" y1="214.70" x2="34.00" y2="218.00" stroke="#231f20" stroke-width="0.9"/>
<text x="34.00" y="226.30" font-size="7.2" text-anchor="middle" font-weight="normal" fill="#111" stroke="#111" stroke-width="0.15">0</text>
<line x1="64.83" y1="214.70" x2="64.83" y2="218.00" stroke="#231f20" stroke-width="0.9"/>
<text x="64.83" y="226.30" font-size="7.2" text-anchor="middle" font-weight="normal" fill="#111" stroke="#111" stroke-width="0.15">50</text>
<line x1="95.66" y1="214.70" x2="95.66" y2="218.00" stroke="#231f20" stroke-width="0.9"/>
<text x="95.66" y="226.30" font-size="7.2" text-anchor="middle" font-weight="normal" fill="#111" stroke="#111" stroke-width="0.15">100</text>
<line x1="126.49" y1="214.70" x2="126.49" y2="218.00" stroke="#231f20" stroke-width="0.9"/>
<text x="126.49" y="226.30" font-size="7.2" text-anchor="middle" font-weight="normal" fill="#111" stroke="#111" stroke-width="0.15">150</text>
<text x="86.40" y="236.60" font-size="7.2" text-anchor="middle" font-weight="normal" fill="#111" stroke="#111" stroke-width="0.15">Time (d)</text>
<text x="6.00" y="175.60" font-size="7.2" text-anchor="middle" font-weight="normal" fill="#111" stroke="#111" stroke-width="0.15" transform="rotate(-90 6.0 175.6)">Relative AT protien</text>
<line x1="33.80" y1="123.70" x2="44.40" y2="123.70" stroke="#0a0aff" stroke-width="1.2"/>
<circle cx="39.20" cy="123.70" r="2.5" fill="#0a0aff"/>
<text x="46.90" y="126.20" font-size="7.2" text-anchor="start" font-weight="normal" fill="#111" stroke="#111" stroke-width="0.15">0.5 mg/kg qw/ 0.125 mg/kg qw</text>
<line x1="33.80" y1="131.85" x2="44.40" y2="131.85" stroke="#ff0a0a" stroke-width="1.2"/>
<rect x="36.70" y="129.35" width="5.00" height="5.00" fill="#ff0a0a"/>
<text x="46.90" y="134.35" font-size="7.2" text-anchor="start" font-weight="normal" fill="#111" stroke="#111" stroke-width="0.15">1 mg/kg q2w/ 0.25 mg/kg qw</text>
<line x1="33.80" y1="140.00" x2="44.40" y2="140.00" stroke="#000000" stroke-width="1.2"/>
<polygon points="39.20,136.75 42.08,142.50 36.33,142.50" fill="#000000"/>
<text x="46.90" y="142.50" font-size="7.2" text-anchor="start" font-weight="normal" fill="#111" stroke="#111" stroke-width="0.15">1.5 mg/kg qw</text>
<line x1="28.45" y1="144.72" x2="28.45" y2="155.08" stroke="#202020" stroke-width="0.6"/>
<line x1="27.45" y1="144.72" x2="29.45" y2="144.72" stroke="#202020" stroke-width="0.6"/>
<line x1="27.45" y1="155.08" x2="29.45" y2="155.08" stroke="#202020" stroke-width="0.6"/>
<line x1="29.68" y1="144.72" x2="29.68" y2="155.08" stroke="#202020" stroke-width="0.6"/>
<line x1="28.68" y1="144.72" x2="30.68" y2="144.72" stroke="#202020" stroke-width="0.6"/>
<line x1="28.68" y1="155.08" x2="30.68" y2="155.08" stroke="#202020" stroke-width="0.6"/>
<line x1="31.53" y1="144.72" x2="31.53" y2="155.08" stroke="#202020" stroke-width="0.6"/>
<line x1="30.53" y1="144.72" x2="32.53" y2="144.72" stroke="#202020" stroke-width="0.6"/>
<line x1="30.53" y1="155.08" x2="32.53" y2="155.08" stroke="#202020" stroke-width="0.6"/>
<line x1="35.48" y1="150.88" x2="35.48" y2="155.40" stroke="#202020" stroke-width="0.6"/>
<line x1="34.48" y1="150.88" x2="36.48" y2="150.88" stroke="#202020" stroke-width="0.6"/>
<line x1="34.48" y1="155.40" x2="36.48" y2="155.40" stroke="#202020" stroke-width="0.6"/>
<line x1="37.70" y1="167.44" x2="37.70" y2="171.24" stroke="#202020" stroke-width="0.6"/>
<line x1="36.70" y1="167.44" x2="38.70" y2="167.44" stroke="#202020" stroke-width="0.6"/>
<line x1="36.70" y1="171.24" x2="38.70" y2="171.24" stroke="#202020" stroke-width="0.6"/>
<line x1="38.93" y1="177.08" x2="38.93" y2="180.45" stroke="#202020" stroke-width="0.6"/>
<line x1="37.93" y1="177.08" x2="39.93" y2="177.08" stroke="#202020" stroke-width="0.6"/>
<line x1="37.93" y1="180.45" x2="39.93" y2="180.45" stroke="#202020" stroke-width="0.6"/>
<line x1="40.41" y1="188.65" x2="40.41" y2="191.50" stroke="#202020" stroke-width="0.6"/>
<line x1="39.41" y1="188.65" x2="41.41" y2="188.65" stroke="#202020" stroke-width="0.6"/>
<line x1="39.41" y1="191.50" x2="41.41" y2="191.50" stroke="#202020" stroke-width="0.6"/>
<line x1="42.02" y1="192.80" x2="42.02" y2="198.59" stroke="#202020" stroke-width="0.6"/>
<line x1="41.02" y1="192.80" x2="43.02" y2="192.80" stroke="#202020" stroke-width="0.6"/>
<line x1="41.02" y1="198.59" x2="43.02" y2="198.59" stroke="#202020" stroke-width="0.6"/>
<line x1="43.87" y1="197.79" x2="43.87" y2="203.10" stroke="#202020" stroke-width="0.6"/>
<line x1="42.87" y1="197.79" x2="44.87" y2="197.79" stroke="#202020" stroke-width="0.6"/>
<line x1="42.87" y1="203.10" x2="44.87" y2="203.10" stroke="#202020" stroke-width="0.6"/>
<line x1="45.72" y1="201.87" x2="45.72" y2="206.79" stroke="#202020" stroke-width="0.6"/>
<line x1="44.72" y1="201.87" x2="46.72" y2="201.87" stroke="#202020" stroke-width="0.6"/>
<line x1="44.72" y1="206.79" x2="46.72" y2="206.79" stroke="#202020" stroke-width="0.6"/>
<line x1="47.57" y1="205.61" x2="47.57" y2="210.18" stroke="#202020" stroke-width="0.6"/>
<line x1="46.57" y1="205.61" x2="48.57" y2="205.61" stroke="#202020" stroke-width="0.6"/>
<line x1="46.57" y1="210.18" x2="48.57" y2="210.18" stroke="#202020" stroke-width="0.6"/>
<line x1="49.41" y1="209.10" x2="49.41" y2="213.34" stroke="#202020" stroke-width="0.6"/>
<line x1="48.41" y1="209.10" x2="50.41" y2="209.10" stroke="#202020" stroke-width="0.6"/>
<line x1="48.41" y1="213.34" x2="50.41" y2="213.34" stroke="#202020" stroke-width="0.6"/>
<line x1="51.26" y1="211.65" x2="51.26" y2="214.70" stroke="#202020" stroke-width="0.6"/>
<line x1="50.26" y1="211.65" x2="52.26" y2="211.65" stroke="#202020" stroke-width="0.6"/>
<line x1="50.26" y1="214.70" x2="52.26" y2="214.70" stroke="#202020" stroke-width="0.6"/>
<line x1="53.11" y1="212.34" x2="53.11" y2="214.70" stroke="#202020" stroke-width="0.6"/>
<line x1="52.11" y1="212.34" x2="54.11" y2="212.34" stroke="#202020" stroke-width="0.6"/>
<line x1="52.11" y1="214.70" x2="54.11" y2="214.70" stroke="#202020" stroke-width="0.6"/>
<line x1="55.58" y1="212.76" x2="55.58" y2="214.70" stroke="#202020" stroke-width="0.6"/>
<line x1="54.58" y1="212.76" x2="56.58" y2="212.76" stroke="#202020" stroke-width="0.6"/>
<line x1="54.58" y1="214.70" x2="56.58" y2="214.70" stroke="#202020" stroke-width="0.6"/>
<line x1="57.43" y1="212.76" x2="57.43" y2="214.70" stroke="#202020" stroke-width="0.6"/>
<line x1="56.43" y1="212.76" x2="58.43" y2="212.76" stroke="#202020" stroke-width="0.6"/>
<line x1="56.43" y1="214.70" x2="58.43" y2="214.70" stroke="#202020" stroke-width="0.6"/>
<line x1="59.90" y1="212.76" x2="59.90" y2="214.70" stroke="#202020" stroke-width="0.6"/>
<line x1="58.90" y1="212.76" x2="60.90" y2="212.76" stroke="#202020" stroke-width="0.6"/>
<line x1="58.90" y1="214.70" x2="60.90" y2="214.70" stroke="#202020" stroke-width="0.6"/>
<line x1="61.75" y1="212.35" x2="61.75" y2="214.70" stroke="#202020" stroke-width="0.6"/>
<line x1="60.75" y1="212.35" x2="62.75" y2="212.35" stroke="#202020" stroke-width="0.6"/>
<line x1="60.75" y1="214.70" x2="62.75" y2="214.70" stroke="#202020" stroke-width="0.6"/>
<line x1="64.21" y1="211.62" x2="64.21" y2="214.70" stroke="#202020" stroke-width="0.6"/>
<line x1="63.21" y1="211.62" x2="65.21" y2="211.62" stroke="#202020" stroke-width="0.6"/>
<line x1="63.21" y1="214.70" x2="65.21" y2="214.70" stroke="#202020" stroke-width="0.6"/>
<line x1="66.06" y1="210.94" x2="66.06" y2="214.70" stroke="#202020" stroke-width="0.6"/>
<line x1="65.06" y1="210.94" x2="67.06" y2="210.94" stroke="#202020" stroke-width="0.6"/>
<line x1="65.06" y1="214.70" x2="67.06" y2="214.70" stroke="#202020" stroke-width="0.6"/>
<line x1="68.53" y1="210.03" x2="68.53" y2="214.18" stroke="#202020" stroke-width="0.6"/>
<line x1="67.53" y1="210.03" x2="69.53" y2="210.03" stroke="#202020" stroke-width="0.6"/>
<line x1="67.53" y1="214.18" x2="69.53" y2="214.18" stroke="#202020" stroke-width="0.6"/>
<line x1="71.00" y1="207.70" x2="71.00" y2="212.07" stroke="#202020" stroke-width="0.6"/>
<line x1="70.00" y1="207.70" x2="72.00" y2="207.70" stroke="#202020" stroke-width="0.6"/>
<line x1="70.00" y1="212.07" x2="72.00" y2="212.07" stroke="#202020" stroke-width="0.6"/>
<line x1="72.85" y1="205.95" x2="72.85" y2="210.49" stroke="#202020" stroke-width="0.6"/>
<line x1="71.85" y1="205.95" x2="73.85" y2="205.95" stroke="#202020" stroke-width="0.6"/>
<line x1="71.85" y1="210.49" x2="73.85" y2="210.49" stroke="#202020" stroke-width="0.6"/>
<line x1="75.31" y1="202.84" x2="75.31" y2="207.67" stroke="#202020" stroke-width="0.6"/>
<line x1="74.31" y1="202.84" x2="76.31" y2="202.84" stroke="#202020" stroke-width="0.6"/>
<line x1="74.31" y1="207.67" x2="76.31" y2="207.67" stroke="#202020" stroke-width="0.6"/>
<line x1="77.16" y1="200.51" x2="77.16" y2="205.56" stroke="#202020" stroke-width="0.6"/>
<line x1="76.16" y1="200.51" x2="78.16" y2="200.51" stroke="#202020" stroke-width="0.6"/>
<line x1="76.16" y1="205.56" x2="78.16" y2="205.56" stroke="#202020" stroke-width="0.6"/>
<line x1="79.63" y1="196.62" x2="79.63" y2="202.05" stroke="#202020" stroke-width="0.6"/>
<line x1="78.63" y1="196.62" x2="80.63" y2="196.62" stroke="#202020" stroke-width="0.6"/>
<line x1="78.63" y1="202.05" x2="80.63" y2="202.05" stroke="#202020" stroke-width="0.6"/>
<line x1="81.48" y1="193.70" x2="81.48" y2="199.41" stroke="#202020" stroke-width="0.6"/>
<line x1="80.48" y1="193.70" x2="82.48" y2="193.70" stroke="#202020" stroke-width="0.6"/>
<line x1="80.48" y1="199.41" x2="82.48" y2="199.41" stroke="#202020" stroke-width="0.6"/>
<line x1="85.79" y1="184.86" x2="85.79" y2="191.40" stroke="#202020" stroke-width="0.6"/>
<line x1="84.79" y1="184.86" x2="86.79" y2="184.86" stroke="#202020" stroke-width="0.6"/>
<line x1="84.79" y1="191.40" x2="86.79" y2="191.40" stroke="#202020" stroke-width="0.6"/>
<line x1="90.11" y1="174.74" x2="90.11" y2="182.25" stroke="#202020" stroke-width="0.6"/>
<line x1="89.11" y1="174.74" x2="91.11" y2="174.74" stroke="#202020" stroke-width="0.6"/>
<line x1="89.11" y1="182.25" x2="91.11" y2="182.25" stroke="#202020" stroke-width="0.6"/>
<line x1="94.43" y1="161.73" x2="94.43" y2="170.47" stroke="#202020" stroke-width="0.6"/>
<line x1="93.43" y1="161.73" x2="95.43" y2="161.73" stroke="#202020" stroke-width="0.6"/>
<line x1="93.43" y1="170.47" x2="95.43" y2="170.47" stroke="#202020" stroke-width="0.6"/>
<line x1="98.74" y1="157.64" x2="98.74" y2="166.78" stroke="#202020" stroke-width="0.6"/>
<line x1="97.74" y1="157.64" x2="99.74" y2="157.64" stroke="#202020" stroke-width="0.6"/>
<line x1="97.74" y1="166.78" x2="99.74" y2="166.78" stroke="#202020" stroke-width="0.6"/>
<line x1="103.06" y1="154.92" x2="103.06" y2="164.32" stroke="#202020" stroke-width="0.6"/>
<line x1="102.06" y1="154.92" x2="104.06" y2="154.92" stroke="#202020" stroke-width="0.6"/>
<line x1="102.06" y1="164.32" x2="104.06" y2="164.32" stroke="#202020" stroke-width="0.6"/>
<line x1="107.38" y1="152.20" x2="107.38" y2="161.86" stroke="#202020" stroke-width="0.6"/>
<line x1="106.38" y1="152.20" x2="108.38" y2="152.20" stroke="#202020" stroke-width="0.6"/>
<line x1="106.38" y1="161.86" x2="108.38" y2="161.86" stroke="#202020" stroke-width="0.6"/>
<line x1="111.69" y1="147.12" x2="111.69" y2="157.26" stroke="#202020" stroke-width="0.6"/>
<line x1="110.69" y1="147.12" x2="112.69" y2="147.12" stroke="#202020" stroke-width="0.6"/>
<line x1="110.69" y1="157.26" x2="112.69" y2="157.26" stroke="#202020" stroke-width="0.6"/>
<line x1="116.01" y1="146.76" x2="116.01" y2="156.93" stroke="#202020" stroke-width="0.6"/>
<line x1="115.01" y1="146.76" x2="117.01" y2="146.76" stroke="#202020" stroke-width="0.6"/>
<line x1="115.01" y1="156.93" x2="117.01" y2="156.93" stroke="#202020" stroke-width="0.6"/>
<line x1="120.32" y1="143.36" x2="120.32" y2="153.85" stroke="#202020" stroke-width="0.6"/>
<line x1="119.32" y1="143.36" x2="121.32" y2="143.36" stroke="#202020" stroke-width="0.6"/>
<line x1="119.32" y1="153.85" x2="121.32" y2="153.85" stroke="#202020" stroke-width="0.6"/>
<line x1="124.64" y1="146.76" x2="124.64" y2="156.93" stroke="#202020" stroke-width="0.6"/>
<line x1="123.64" y1="146.76" x2="125.64" y2="146.76" stroke="#202020" stroke-width="0.6"/>
<line x1="123.64" y1="156.93" x2="125.64" y2="156.93" stroke="#202020" stroke-width="0.6"/>
<line x1="128.96" y1="147.44" x2="128.96" y2="157.55" stroke="#202020" stroke-width="0.6"/>
<line x1="127.96" y1="147.44" x2="129.96" y2="147.44" stroke="#202020" stroke-width="0.6"/>
<line x1="127.96" y1="157.55" x2="129.96" y2="157.55" stroke="#202020" stroke-width="0.6"/>
<line x1="133.27" y1="145.06" x2="133.27" y2="155.39" stroke="#202020" stroke-width="0.6"/>
<line x1="132.27" y1="145.06" x2="134.27" y2="145.06" stroke="#202020" stroke-width="0.6"/>
<line x1="132.27" y1="155.39" x2="134.27" y2="155.39" stroke="#202020" stroke-width="0.6"/>
<line x1="137.59" y1="144.72" x2="137.59" y2="155.08" stroke="#202020" stroke-width="0.6"/>
<line x1="136.59" y1="144.72" x2="138.59" y2="144.72" stroke="#202020" stroke-width="0.6"/>
<line x1="136.59" y1="155.08" x2="138.59" y2="155.08" stroke="#202020" stroke-width="0.6"/>
<line x1="28.45" y1="142.80" x2="28.45" y2="158.29" stroke="#ff3030" stroke-width="0.6"/>
<line x1="27.45" y1="142.80" x2="29.45" y2="142.80" stroke="#ff3030" stroke-width="0.6"/>
<line x1="27.45" y1="158.29" x2="29.45" y2="158.29" stroke="#ff3030" stroke-width="0.6"/>
<line x1="29.68" y1="142.12" x2="29.68" y2="157.68" stroke="#ff3030" stroke-width="0.6"/>
<line x1="28.68" y1="142.12" x2="30.68" y2="142.12" stroke="#ff3030" stroke-width="0.6"/>
<line x1="28.68" y1="157.68" x2="30.68" y2="157.68" stroke="#ff3030" stroke-width="0.6"/>
<line x1="31.53" y1="142.12" x2="31.53" y2="157.68" stroke="#ff3030" stroke-width="0.6"/>
<line x1="30.53" y1="142.12" x2="32.53" y2="142.12" stroke="#ff3030" stroke-width="0.6"/>
<line x1="30.53" y1="157.68" x2="32.53" y2="157.68" stroke="#ff3030" stroke-width="0.6"/>
<line x1="35.48" y1="149.71" x2="35.48" y2="156.57" stroke="#ff3030" stroke-width="0.6"/>
<line x1="34.48" y1="149.71" x2="36.48" y2="149.71" stroke="#ff3030" stroke-width="0.6"/>
<line x1="34.48" y1="156.57" x2="36.48" y2="156.57" stroke="#ff3030" stroke-width="0.6"/>
<line x1="37.70" y1="163.77" x2="37.70" y2="170.00" stroke="#ff3030" stroke-width="0.6"/>
<line x1="36.70" y1="163.77" x2="38.70" y2="163.77" stroke="#ff3030" stroke-width="0.6"/>
<line x1="36.70" y1="170.00" x2="38.70" y2="170.00" stroke="#ff3030" stroke-width="0.6"/>
<line x1="38.93" y1="171.58" x2="38.93" y2="177.47" stroke="#ff3030" stroke-width="0.6"/>
<line x1="37.93" y1="171.58" x2="39.93" y2="171.58" stroke="#ff3030" stroke-width="0.6"/>
<line x1="37.93" y1="177.47" x2="39.93" y2="177.47" stroke="#ff3030" stroke-width="0.6"/>
<line x1="40.41" y1="183.51" x2="40.41" y2="188.87" stroke="#ff3030" stroke-width="0.6"/>
<line x1="39.41" y1="183.51" x2="41.41" y2="183.51" stroke="#ff3030" stroke-width="0.6"/>
<line x1="39.41" y1="188.87" x2="41.41" y2="188.87" stroke="#ff3030" stroke-width="0.6"/>
<line x1="42.02" y1="183.69" x2="42.02" y2="195.28" stroke="#ff3030" stroke-width="0.6"/>
<line x1="41.02" y1="183.69" x2="43.02" y2="183.69" stroke="#ff3030" stroke-width="0.6"/>
<line x1="41.02" y1="195.28" x2="43.02" y2="195.28" stroke="#ff3030" stroke-width="0.6"/>
<line x1="43.87" y1="187.61" x2="43.87" y2="198.83" stroke="#ff3030" stroke-width="0.6"/>
<line x1="42.87" y1="187.61" x2="44.87" y2="187.61" stroke="#ff3030" stroke-width="0.6"/>
<line x1="42.87" y1="198.83" x2="44.87" y2="198.83" stroke="#ff3030" stroke-width="0.6"/>
<line x1="45.72" y1="191.39" x2="45.72" y2="202.25" stroke="#ff3030" stroke-width="0.6"/>
<line x1="44.72" y1="191.39" x2="46.72" y2="191.39" stroke="#ff3030" stroke-width="0.6"/>
<line x1="44.72" y1="202.25" x2="46.72" y2="202.25" stroke="#ff3030" stroke-width="0.6"/>
<line x1="47.57" y1="195.05" x2="47.57" y2="205.56" stroke="#ff3030" stroke-width="0.6"/>
<line x1="46.57" y1="195.05" x2="48.57" y2="195.05" stroke="#ff3030" stroke-width="0.6"/>
<line x1="46.57" y1="205.56" x2="48.57" y2="205.56" stroke="#ff3030" stroke-width="0.6"/>
<line x1="49.41" y1="198.60" x2="49.41" y2="208.77" stroke="#ff3030" stroke-width="0.6"/>
<line x1="48.41" y1="198.60" x2="50.41" y2="198.60" stroke="#ff3030" stroke-width="0.6"/>
<line x1="48.41" y1="208.77" x2="50.41" y2="208.77" stroke="#ff3030" stroke-width="0.6"/>
<line x1="51.26" y1="200.39" x2="51.26" y2="210.39" stroke="#ff3030" stroke-width="0.6"/>
<line x1="50.26" y1="200.39" x2="52.26" y2="200.39" stroke="#ff3030" stroke-width="0.6"/>
<line x1="50.26" y1="210.39" x2="52.26" y2="210.39" stroke="#ff3030" stroke-width="0.6"/>
<line x1="53.11" y1="202.08" x2="53.11" y2="211.92" stroke="#ff3030" stroke-width="0.6"/>
<line x1="52.11" y1="202.08" x2="54.11" y2="202.08" stroke="#ff3030" stroke-width="0.6"/>
<line x1="52.11" y1="211.92" x2="54.11" y2="211.92" stroke="#ff3030" stroke-width="0.6"/>
<line x1="55.58" y1="203.10" x2="55.58" y2="212.85" stroke="#ff3030" stroke-width="0.6"/>
<line x1="54.58" y1="203.10" x2="56.58" y2="203.10" stroke="#ff3030" stroke-width="0.6"/>
<line x1="54.58" y1="212.85" x2="56.58" y2="212.85" stroke="#ff3030" stroke-width="0.6"/>
<line x1="57.43" y1="203.60" x2="57.43" y2="213.30" stroke="#ff3030" stroke-width="0.6"/>
<line x1="56.43" y1="203.60" x2="58.43" y2="203.60" stroke="#ff3030" stroke-width="0.6"/>
<line x1="56.43" y1="213.30" x2="58.43" y2="213.30" stroke="#ff3030" stroke-width="0.6"/>
<line x1="59.90" y1="203.94" x2="59.90" y2="213.61" stroke="#ff3030" stroke-width="0.6"/>
<line x1="58.90" y1="203.94" x2="60.90" y2="203.94" stroke="#ff3030" stroke-width="0.6"/>
<line x1="58.90" y1="213.61" x2="60.90" y2="213.61" stroke="#ff3030" stroke-width="0.6"/>
<line x1="61.75" y1="202.97" x2="61.75" y2="212.73" stroke="#ff3030" stroke-width="0.6"/>
<line x1="60.75" y1="202.97" x2="62.75" y2="202.97" stroke="#ff3030" stroke-width="0.6"/>
<line x1="60.75" y1="212.73" x2="62.75" y2="212.73" stroke="#ff3030" stroke-width="0.6"/>
<line x1="64.21" y1="201.61" x2="64.21" y2="211.50" stroke="#ff3030" stroke-width="0.6"/>
<line x1="63.21" y1="201.61" x2="65.21" y2="201.61" stroke="#ff3030" stroke-width="0.6"/>
<line x1="63.21" y1="211.50" x2="65.21" y2="211.50" stroke="#ff3030" stroke-width="0.6"/>
<line x1="66.06" y1="200.44" x2="66.06" y2="210.44" stroke="#ff3030" stroke-width="0.6"/>
<line x1="65.06" y1="200.44" x2="67.06" y2="200.44" stroke="#ff3030" stroke-width="0.6"/>
<line x1="65.06" y1="210.44" x2="67.06" y2="210.44" stroke="#ff3030" stroke-width="0.6"/>
<line x1="68.53" y1="198.69" x2="68.53" y2="208.86" stroke="#ff3030" stroke-width="0.6"/>
<line x1="67.53" y1="198.69" x2="69.53" y2="198.69" stroke="#ff3030" stroke-width="0.6"/>
<line x1="67.53" y1="208.86" x2="69.53" y2="208.86" stroke="#ff3030" stroke-width="0.6"/>
<line x1="71.00" y1="196.36" x2="71.00" y2="206.75" stroke="#ff3030" stroke-width="0.6"/>
<line x1="70.00" y1="196.36" x2="72.00" y2="196.36" stroke="#ff3030" stroke-width="0.6"/>
<line x1="70.00" y1="206.75" x2="72.00" y2="206.75" stroke="#ff3030" stroke-width="0.6"/>
<line x1="72.85" y1="194.51" x2="72.85" y2="205.08" stroke="#ff3030" stroke-width="0.6"/>
<line x1="71.85" y1="194.51" x2="73.85" y2="194.51" stroke="#ff3030" stroke-width="0.6"/>
<line x1="71.85" y1="205.08" x2="73.85" y2="205.08" stroke="#ff3030" stroke-width="0.6"/>
<line x1="75.31" y1="191.79" x2="75.31" y2="202.61" stroke="#ff3030" stroke-width="0.6"/>
<line x1="74.31" y1="191.79" x2="76.31" y2="191.79" stroke="#ff3030" stroke-width="0.6"/>
<line x1="74.31" y1="202.61" x2="76.31" y2="202.61" stroke="#ff3030" stroke-width="0.6"/>
<line x1="77.16" y1="189.75" x2="77.16" y2="200.77" stroke="#ff3030" stroke-width="0.6"/>
<line x1="76.16" y1="189.75" x2="78.16" y2="189.75" stroke="#ff3030" stroke-width="0.6"/>
<line x1="76.16" y1="200.77" x2="78.16" y2="200.77" stroke="#ff3030" stroke-width="0.6"/>
<line x1="79.63" y1="187.03" x2="79.63" y2="198.31" stroke="#ff3030" stroke-width="0.6"/>
<line x1="78.63" y1="187.03" x2="80.63" y2="187.03" stroke="#ff3030" stroke-width="0.6"/>
<line x1="78.63" y1="198.31" x2="80.63" y2="198.31" stroke="#ff3030" stroke-width="0.6"/>
<line x1="81.48" y1="185.41" x2="81.48" y2="196.84" stroke="#ff3030" stroke-width="0.6"/>
<line x1="80.48" y1="185.41" x2="82.48" y2="185.41" stroke="#ff3030" stroke-width="0.6"/>
<line x1="80.48" y1="196.84" x2="82.48" y2="196.84" stroke="#ff3030" stroke-width="0.6"/>
<line x1="85.79" y1="183.63" x2="85.79" y2="195.23" stroke="#ff3030" stroke-width="0.6"/>
<line x1="84.79" y1="183.63" x2="86.79" y2="183.63" stroke="#ff3030" stroke-width="0.6"/>
<line x1="84.79" y1="195.23" x2="86.79" y2="195.23" stroke="#ff3030" stroke-width="0.6"/>
<line x1="90.11" y1="185.74" x2="90.11" y2="197.14" stroke="#ff3030" stroke-width="0.6"/>
<line x1="89.11" y1="185.74" x2="91.11" y2="185.74" stroke="#ff3030" stroke-width="0.6"/>
<line x1="89.11" y1="197.14" x2="91.11" y2="197.14" stroke="#ff3030" stroke-width="0.6"/>
<line x1="94.43" y1="186.24" x2="94.43" y2="197.59" stroke="#ff3030" stroke-width="0.6"/>
<line x1="93.43" y1="186.24" x2="95.43" y2="186.24" stroke="#ff3030" stroke-width="0.6"/>
<line x1="93.43" y1="197.59" x2="95.43" y2="197.59" stroke="#ff3030" stroke-width="0.6"/>
<line x1="98.74" y1="188.83" x2="98.74" y2="199.94" stroke="#ff3030" stroke-width="0.6"/>
<line x1="97.74" y1="188.83" x2="99.74" y2="188.83" stroke="#ff3030" stroke-width="0.6"/>
<line x1="97.74" y1="199.94" x2="99.74" y2="199.94" stroke="#ff3030" stroke-width="0.6"/>
<line x1="103.06" y1="188.71" x2="103.06" y2="199.82" stroke="#ff3030" stroke-width="0.6"/>
<line x1="102.06" y1="188.71" x2="104.06" y2="188.71" stroke="#ff3030" stroke-width="0.6"/>
<line x1="102.06" y1="199.82" x2="104.06" y2="199.82" stroke="#ff3030" stroke-width="0.6"/>
<line x1="107.38" y1="187.53" x2="107.38" y2="198.76" stroke="#ff3030" stroke-width="0.6"/>
<line x1="106.38" y1="187.53" x2="108.38" y2="187.53" stroke="#ff3030" stroke-width="0.6"/>
<line x1="106.38" y1="198.76" x2="108.38" y2="198.76" stroke="#ff3030" stroke-width="0.6"/>
<line x1="111.69" y1="187.37" x2="111.69" y2="198.61" stroke="#ff3030" stroke-width="0.6"/>
<line x1="110.69" y1="187.37" x2="112.69" y2="187.37" stroke="#ff3030" stroke-width="0.6"/>
<line x1="110.69" y1="198.61" x2="112.69" y2="198.61" stroke="#ff3030" stroke-width="0.6"/>
<line x1="116.01" y1="187.00" x2="116.01" y2="198.28" stroke="#ff3030" stroke-width="0.6"/>
<line x1="115.01" y1="187.00" x2="117.01" y2="187.00" stroke="#ff3030" stroke-width="0.6"/>
<line x1="115.01" y1="198.28" x2="117.01" y2="198.28" stroke="#ff3030" stroke-width="0.6"/>
<line x1="120.32" y1="186.35" x2="120.32" y2="197.69" stroke="#ff3030" stroke-width="0.6"/>
<line x1="119.32" y1="186.35" x2="121.32" y2="186.35" stroke="#ff3030" stroke-width="0.6"/>
<line x1="119.32" y1="197.69" x2="121.32" y2="197.69" stroke="#ff3030" stroke-width="0.6"/>
<line x1="124.64" y1="187.85" x2="124.64" y2="199.05" stroke="#ff3030" stroke-width="0.6"/>
<line x1="123.64" y1="187.85" x2="125.64" y2="187.85" stroke="#ff3030" stroke-width="0.6"/>
<line x1="123.64" y1="199.05" x2="125.64" y2="199.05" stroke="#ff3030" stroke-width="0.6"/>
<line x1="128.96" y1="187.65" x2="128.96" y2="198.87" stroke="#ff3030" stroke-width="0.6"/>
<line x1="127.96" y1="187.65" x2="129.96" y2="187.65" stroke="#ff3030" stroke-width="0.6"/>
<line x1="127.96" y1="198.87" x2="129.96" y2="198.87" stroke="#ff3030" stroke-width="0.6"/>
<line x1="133.27" y1="186.68" x2="133.27" y2="197.99" stroke="#ff3030" stroke-width="0.6"/>
<line x1="132.27" y1="186.68" x2="134.27" y2="186.68" stroke="#ff3030" stroke-width="0.6"/>
<line x1="132.27" y1="197.99" x2="134.27" y2="197.99" stroke="#ff3030" stroke-width="0.6"/>
<line x1="28.45" y1="142.12" x2="28.45" y2="157.68" stroke="#3030ff" stroke-width="0.6"/>
<line x1="27.45" y1="142.12" x2="29.45" y2="142.12" stroke="#3030ff" stroke-width="0.6"/>
<line x1="27.45" y1="157.68" x2="29.45" y2="157.68" stroke="#3030ff" stroke-width="0.6"/>
<line x1="29.68" y1="140.76" x2="29.68" y2="156.44" stroke="#3030ff" stroke-width="0.6"/>
<line x1="28.68" y1="140.76" x2="30.68" y2="140.76" stroke="#3030ff" stroke-width="0.6"/>
<line x1="28.68" y1="156.44" x2="30.68" y2="156.44" stroke="#3030ff" stroke-width="0.6"/>
<line x1="31.53" y1="142.80" x2="31.53" y2="158.29" stroke="#3030ff" stroke-width="0.6"/>
<line x1="30.53" y1="142.80" x2="32.53" y2="142.80" stroke="#3030ff" stroke-width="0.6"/>
<line x1="30.53" y1="158.29" x2="32.53" y2="158.29" stroke="#3030ff" stroke-width="0.6"/>
<line x1="35.48" y1="149.71" x2="35.48" y2="156.57" stroke="#3030ff" stroke-width="0.6"/>
<line x1="34.48" y1="149.71" x2="36.48" y2="149.71" stroke="#3030ff" stroke-width="0.6"/>
<line x1="34.48" y1="156.57" x2="36.48" y2="156.57" stroke="#3030ff" stroke-width="0.6"/>
<line x1="37.70" y1="163.34" x2="37.70" y2="169.60" stroke="#3030ff" stroke-width="0.6"/>
<line x1="36.70" y1="163.34" x2="38.70" y2="163.34" stroke="#3030ff" stroke-width="0.6"/>
<line x1="36.70" y1="169.60" x2="38.70" y2="169.60" stroke="#3030ff" stroke-width="0.6"/>
<line x1="38.93" y1="170.92" x2="38.93" y2="176.84" stroke="#3030ff" stroke-width="0.6"/>
<line x1="37.93" y1="170.92" x2="39.93" y2="170.92" stroke="#3030ff" stroke-width="0.6"/>
<line x1="37.93" y1="176.84" x2="39.93" y2="176.84" stroke="#3030ff" stroke-width="0.6"/>
<line x1="40.41" y1="182.45" x2="40.41" y2="187.86" stroke="#3030ff" stroke-width="0.6"/>
<line x1="39.41" y1="182.45" x2="41.41" y2="182.45" stroke="#3030ff" stroke-width="0.6"/>
<line x1="39.41" y1="187.86" x2="41.41" y2="187.86" stroke="#3030ff" stroke-width="0.6"/>
<line x1="42.02" y1="182.45" x2="42.02" y2="194.16" stroke="#3030ff" stroke-width="0.6"/>
<line x1="41.02" y1="182.45" x2="43.02" y2="182.45" stroke="#3030ff" stroke-width="0.6"/>
<line x1="41.02" y1="194.16" x2="43.02" y2="194.16" stroke="#3030ff" stroke-width="0.6"/>
<line x1="43.87" y1="186.31" x2="43.87" y2="197.66" stroke="#3030ff" stroke-width="0.6"/>
<line x1="42.87" y1="186.31" x2="44.87" y2="186.31" stroke="#3030ff" stroke-width="0.6"/>
<line x1="42.87" y1="197.66" x2="44.87" y2="197.66" stroke="#3030ff" stroke-width="0.6"/>
<line x1="45.72" y1="190.28" x2="45.72" y2="201.25" stroke="#3030ff" stroke-width="0.6"/>
<line x1="44.72" y1="190.28" x2="46.72" y2="190.28" stroke="#3030ff" stroke-width="0.6"/>
<line x1="44.72" y1="201.25" x2="46.72" y2="201.25" stroke="#3030ff" stroke-width="0.6"/>
<line x1="47.57" y1="194.15" x2="47.57" y2="204.74" stroke="#3030ff" stroke-width="0.6"/>
<line x1="46.57" y1="194.15" x2="48.57" y2="194.15" stroke="#3030ff" stroke-width="0.6"/>
<line x1="46.57" y1="204.74" x2="48.57" y2="204.74" stroke="#3030ff" stroke-width="0.6"/>
<line x1="49.41" y1="197.92" x2="49.41" y2="208.16" stroke="#3030ff" stroke-width="0.6"/>
<line x1="48.41" y1="197.92" x2="50.41" y2="197.92" stroke="#3030ff" stroke-width="0.6"/>
<line x1="48.41" y1="208.16" x2="50.41" y2="208.16" stroke="#3030ff" stroke-width="0.6"/>
<line x1="51.26" y1="200.42" x2="51.26" y2="210.42" stroke="#3030ff" stroke-width="0.6"/>
<line x1="50.26" y1="200.42" x2="52.26" y2="200.42" stroke="#3030ff" stroke-width="0.6"/>
<line x1="50.26" y1="210.42" x2="52.26" y2="210.42" stroke="#3030ff" stroke-width="0.6"/>
<line x1="53.11" y1="202.78" x2="53.11" y2="212.55" stroke="#3030ff" stroke-width="0.6"/>
<line x1="52.11" y1="202.78" x2="54.11" y2="202.78" stroke="#3030ff" stroke-width="0.6"/>
<line x1="52.11" y1="212.55" x2="54.11" y2="212.55" stroke="#3030ff" stroke-width="0.6"/>
<line x1="55.58" y1="204.06" x2="55.58" y2="213.71" stroke="#3030ff" stroke-width="0.6"/>
<line x1="54.58" y1="204.06" x2="56.58" y2="204.06" stroke="#3030ff" stroke-width="0.6"/>
<line x1="54.58" y1="213.71" x2="56.58" y2="213.71" stroke="#3030ff" stroke-width="0.6"/>
<line x1="57.43" y1="204.64" x2="57.43" y2="214.24" stroke="#3030ff" stroke-width="0.6"/>
<line x1="56.43" y1="204.64" x2="58.43" y2="204.64" stroke="#3030ff" stroke-width="0.6"/>
<line x1="56.43" y1="214.24" x2="58.43" y2="214.24" stroke="#3030ff" stroke-width="0.6"/>
<line x1="59.90" y1="205.09" x2="59.90" y2="214.65" stroke="#3030ff" stroke-width="0.6"/>
<line x1="58.90" y1="205.09" x2="60.90" y2="205.09" stroke="#3030ff" stroke-width="0.6"/>
<line x1="58.90" y1="214.65" x2="60.90" y2="214.65" stroke="#3030ff" stroke-width="0.6"/>
<line x1="61.75" y1="204.74" x2="61.75" y2="214.33" stroke="#3030ff" stroke-width="0.6"/>
<line x1="60.75" y1="204.74" x2="62.75" y2="204.74" stroke="#3030ff" stroke-width="0.6"/>
<line x1="60.75" y1="214.33" x2="62.75" y2="214.33" stroke="#3030ff" stroke-width="0.6"/>
<line x1="64.21" y1="204.04" x2="64.21" y2="213.70" stroke="#3030ff" stroke-width="0.6"/>
<line x1="63.21" y1="204.04" x2="65.21" y2="204.04" stroke="#3030ff" stroke-width="0.6"/>
<line x1="63.21" y1="213.70" x2="65.21" y2="213.70" stroke="#3030ff" stroke-width="0.6"/>
<line x1="66.06" y1="203.02" x2="66.06" y2="212.77" stroke="#3030ff" stroke-width="0.6"/>
<line x1="65.06" y1="203.02" x2="67.06" y2="203.02" stroke="#3030ff" stroke-width="0.6"/>
<line x1="65.06" y1="212.77" x2="67.06" y2="212.77" stroke="#3030ff" stroke-width="0.6"/>
<line x1="68.53" y1="201.42" x2="68.53" y2="211.32" stroke="#3030ff" stroke-width="0.6"/>
<line x1="67.53" y1="201.42" x2="69.53" y2="201.42" stroke="#3030ff" stroke-width="0.6"/>
<line x1="67.53" y1="211.32" x2="69.53" y2="211.32" stroke="#3030ff" stroke-width="0.6"/>
<line x1="71.00" y1="199.08" x2="71.00" y2="209.21" stroke="#3030ff" stroke-width="0.6"/>
<line x1="70.00" y1="199.08" x2="72.00" y2="199.08" stroke="#3030ff" stroke-width="0.6"/>
<line x1="70.00" y1="209.21" x2="72.00" y2="209.21" stroke="#3030ff" stroke-width="0.6"/>
<line x1="72.85" y1="197.33" x2="72.85" y2="207.63" stroke="#3030ff" stroke-width="0.6"/>
<line x1="71.85" y1="197.33" x2="73.85" y2="197.33" stroke="#3030ff" stroke-width="0.6"/>
<line x1="71.85" y1="207.63" x2="73.85" y2="207.63" stroke="#3030ff" stroke-width="0.6"/>
<line x1="75.31" y1="195.00" x2="75.31" y2="205.52" stroke="#3030ff" stroke-width="0.6"/>
<line x1="74.31" y1="195.00" x2="76.31" y2="195.00" stroke="#3030ff" stroke-width="0.6"/>
<line x1="74.31" y1="205.52" x2="76.31" y2="205.52" stroke="#3030ff" stroke-width="0.6"/>
<line x1="77.16" y1="193.35" x2="77.16" y2="204.02" stroke="#3030ff" stroke-width="0.6"/>
<line x1="76.16" y1="193.35" x2="78.16" y2="193.35" stroke="#3030ff" stroke-width="0.6"/>
<line x1="76.16" y1="204.02" x2="78.16" y2="204.02" stroke="#3030ff" stroke-width="0.6"/>
<line x1="79.63" y1="191.40" x2="79.63" y2="202.26" stroke="#3030ff" stroke-width="0.6"/>
<line x1="78.63" y1="191.40" x2="80.63" y2="191.40" stroke="#3030ff" stroke-width="0.6"/>
<line x1="78.63" y1="202.26" x2="80.63" y2="202.26" stroke="#3030ff" stroke-width="0.6"/>
<line x1="81.48" y1="189.67" x2="81.48" y2="200.69" stroke="#3030ff" stroke-width="0.6"/>
<line x1="80.48" y1="189.67" x2="82.48" y2="189.67" stroke="#3030ff" stroke-width="0.6"/>
<line x1="80.48" y1="200.69" x2="82.48" y2="200.69" stroke="#3030ff" stroke-width="0.6"/>
<line x1="85.79" y1="184.31" x2="85.79" y2="195.84" stroke="#3030ff" stroke-width="0.6"/>
<line x1="84.79" y1="184.31" x2="86.79" y2="184.31" stroke="#3030ff" stroke-width="0.6"/>
<line x1="84.79" y1="195.84" x2="86.79" y2="195.84" stroke="#3030ff" stroke-width="0.6"/>
<line x1="90.11" y1="181.63" x2="90.11" y2="193.42" stroke="#3030ff" stroke-width="0.6"/>
<line x1="89.11" y1="181.63" x2="91.11" y2="181.63" stroke="#3030ff" stroke-width="0.6"/>
<line x1="89.11" y1="193.42" x2="91.11" y2="193.42" stroke="#3030ff" stroke-width="0.6"/>
<line x1="94.43" y1="177.16" x2="94.43" y2="189.38" stroke="#3030ff" stroke-width="0.6"/>
<line x1="93.43" y1="177.16" x2="95.43" y2="177.16" stroke="#3030ff" stroke-width="0.6"/>
<line x1="93.43" y1="189.38" x2="95.43" y2="189.38" stroke="#3030ff" stroke-width="0.6"/>
<line x1="98.74" y1="177.63" x2="98.74" y2="189.80" stroke="#3030ff" stroke-width="0.6"/>
<line x1="97.74" y1="177.63" x2="99.74" y2="177.63" stroke="#3030ff" stroke-width="0.6"/>
<line x1="97.74" y1="189.80" x2="99.74" y2="189.80" stroke="#3030ff" stroke-width="0.6"/>
<line x1="103.06" y1="178.19" x2="103.06" y2="190.30" stroke="#3030ff" stroke-width="0.6"/>
<line x1="102.06" y1="178.19" x2="104.06" y2="178.19" stroke="#3030ff" stroke-width="0.6"/>
<line x1="102.06" y1="190.30" x2="104.06" y2="190.30" stroke="#3030ff" stroke-width="0.6"/>
<line x1="107.38" y1="177.61" x2="107.38" y2="189.78" stroke="#3030ff" stroke-width="0.6"/>
<line x1="106.38" y1="177.61" x2="108.38" y2="177.61" stroke="#3030ff" stroke-width="0.6"/>
<line x1="106.38" y1="189.78" x2="108.38" y2="189.78" stroke="#3030ff" stroke-width="0.6"/>
<line x1="111.69" y1="177.50" x2="111.69" y2="189.69" stroke="#3030ff" stroke-width="0.6"/>
<line x1="110.69" y1="177.50" x2="112.69" y2="177.50" stroke="#3030ff" stroke-width="0.6"/>
<line x1="110.69" y1="189.69" x2="112.69" y2="189.69" stroke="#3030ff" stroke-width="0.6"/>
<line x1="116.01" y1="176.52" x2="116.01" y2="188.79" stroke="#3030ff" stroke-width="0.6"/>
<line x1="115.01" y1="176.52" x2="117.01" y2="176.52" stroke="#3030ff" stroke-width="0.6"/>
<line x1="115.01" y1="188.79" x2="117.01" y2="188.79" stroke="#3030ff" stroke-width="0.6"/>
<line x1="120.32" y1="174.78" x2="120.32" y2="187.22" stroke="#3030ff" stroke-width="0.6"/>
<line x1="119.32" y1="174.78" x2="121.32" y2="174.78" stroke="#3030ff" stroke-width="0.6"/>
<line x1="119.32" y1="187.22" x2="121.32" y2="187.22" stroke="#3030ff" stroke-width="0.6"/>
<line x1="124.64" y1="176.79" x2="124.64" y2="189.04" stroke="#3030ff" stroke-width="0.6"/>
<line x1="123.64" y1="176.79" x2="125.64" y2="176.79" stroke="#3030ff" stroke-width="0.6"/>
<line x1="123.64" y1="189.04" x2="125.64" y2="189.04" stroke="#3030ff" stroke-width="0.6"/>
<line x1="128.96" y1="176.02" x2="128.96" y2="188.35" stroke="#3030ff" stroke-width="0.6"/>
<line x1="127.96" y1="176.02" x2="129.96" y2="176.02" stroke="#3030ff" stroke-width="0.6"/>
<line x1="127.96" y1="188.35" x2="129.96" y2="188.35" stroke="#3030ff" stroke-width="0.6"/>
<line x1="133.27" y1="175.00" x2="133.27" y2="187.42" stroke="#3030ff" stroke-width="0.6"/>
<line x1="132.27" y1="175.00" x2="134.27" y2="175.00" stroke="#3030ff" stroke-width="0.6"/>
<line x1="132.27" y1="187.42" x2="134.27" y2="187.42" stroke="#3030ff" stroke-width="0.6"/>
<polyline points="28.45,149.90 29.68,149.90 31.53,149.90 35.48,153.14 37.70,169.34 38.93,178.77 40.41,190.08 42.02,195.69 43.87,200.44 45.72,204.33 47.57,207.90 49.41,211.22 51.26,213.65 53.11,214.30 55.58,214.70 57.43,214.70 59.90,214.70 61.75,214.31 64.21,213.62 66.06,212.97 68.53,212.11 71.00,209.89 72.85,208.22 75.31,205.26 77.16,203.04 79.63,199.33 81.48,196.56 85.79,188.13 90.11,178.49 94.43,166.10 98.74,162.21 103.06,159.62 107.38,157.03 111.69,152.19 116.01,151.84 120.32,148.60 124.64,151.84 128.96,152.49 133.27,150.22 137.59,149.90" fill="none" stroke="#000000" stroke-width="0.8" stroke-linejoin="round"/>
<polygon points="28.45,148.73 29.49,150.80 27.42,150.80" fill="#000000"/>
<polygon points="29.68,148.73 30.72,150.80 28.65,150.80" fill="#000000"/>
<polygon points="31.53,148.73 32.57,150.80 30.50,150.80" fill="#000000"/>
<polygon points="35.48,151.97 36.51,154.04 34.44,154.04" fill="#000000"/>
<polygon points="37.70,168.17 38.73,170.24 36.66,170.24" fill="#000000"/>
<polygon points="38.93,177.60 39.97,179.67 37.90,179.67" fill="#000000"/>
<polygon points="40.41,188.91 41.45,190.98 39.38,190.98" fill="#000000"/>
<polygon points="42.02,194.52 43.05,196.59 40.98,196.59" fill="#000000"/>
<polygon points="43.87,199.27 44.90,201.34 42.83,201.34" fill="#000000"/>
<polygon points="45.72,203.16 46.75,205.23 44.68,205.23" fill="#000000"/>
<polygon points="47.57,206.73 48.60,208.80 46.53,208.80" fill="#000000"/>
<polygon points="49.41,210.05 50.45,212.12 48.38,212.12" fill="#000000"/>
<polygon points="51.26,212.48 52.30,214.55 50.23,214.55" fill="#000000"/>
<polygon points="53.11,213.13 54.15,215.20 52.08,215.20" fill="#000000"/>
<polygon points="55.58,213.53 56.62,215.60 54.55,215.60" fill="#000000"/>
<polygon points="57.43,213.53 58.47,215.60 56.40,215.60" fill="#000000"/>
<polygon points="59.90,213.53 60.93,215.60 58.86,215.60" fill="#000000"/>
<polygon points="61.75,213.14 62.78,215.21 60.71,215.21" fill="#000000"/>
<polygon points="64.21,212.45 65.25,214.52 63.18,214.52" fill="#000000"/>
<polygon points="66.06,211.80 67.10,213.87 65.03,213.87" fill="#000000"/>
<polygon points="68.53,210.94 69.56,213.01 67.49,213.01" fill="#000000"/>
<polygon points="71.00,208.72 72.03,210.79 69.96,210.79" fill="#000000"/>
<polygon points="72.85,207.05 73.88,209.12 71.81,209.12" fill="#000000"/>
<polygon points="75.31,204.09 76.35,206.16 74.28,206.16" fill="#000000"/>
<polygon points="77.16,201.87 78.20,203.94 76.13,203.94" fill="#000000"/>
<polygon points="79.63,198.16 80.66,200.23 78.59,200.23" fill="#000000"/>
<polygon points="81.48,195.39 82.51,197.46 80.44,197.46" fill="#000000"/>
<polygon points="85.79,186.96 86.83,189.03 84.76,189.03" fill="#000000"/>
<polygon points="90.11,177.32 91.15,179.39 89.08,179.39" fill="#000000"/>
<polygon points="94.43,164.93 95.46,167.00 93.39,167.00" fill="#000000"/>
<polygon points="98.74,161.04 99.78,163.11 97.71,163.11" fill="#000000"/>
<polygon points="103.06,158.45 104.09,160.52 102.02,160.52" fill="#000000"/>
<polygon points="107.38,155.86 108.41,157.93 106.34,157.93" fill="#000000"/>
<polygon points="111.69,151.02 112.73,153.09 110.66,153.09" fill="#000000"/>
<polygon points="116.01,150.67 117.04,152.74 114.97,152.74" fill="#000000"/>
<polygon points="120.32,147.43 121.36,149.50 119.29,149.50" fill="#000000"/>
<polygon points="124.64,150.67 125.68,152.74 123.61,152.74" fill="#000000"/>
<polygon points="128.96,151.32 129.99,153.39 127.92,153.39" fill="#000000"/>
<polygon points="133.27,149.05 134.31,151.12 132.24,151.12" fill="#000000"/>
<polygon points="137.59,148.73 138.62,150.80 136.55,150.80" fill="#000000"/>
<polyline points="28.45,150.55 29.68,149.90 31.53,149.90 35.48,153.14 37.70,166.89 38.93,174.52 40.41,186.19 42.02,189.48 43.87,193.22 45.72,196.82 47.57,200.30 49.41,203.68 51.26,205.39 53.11,207.00 55.58,207.98 57.43,208.45 59.90,208.78 61.75,207.85 64.21,206.55 66.06,205.44 68.53,203.78 71.00,201.55 72.85,199.80 75.31,197.20 77.16,195.26 79.63,192.67 81.48,191.13 85.79,189.43 90.11,191.44 94.43,191.91 98.74,194.38 103.06,194.26 107.38,193.14 111.69,192.99 116.01,192.64 120.32,192.02 124.64,193.45 128.96,193.26 133.27,192.33" fill="none" stroke="#ff2020" stroke-width="0.8" stroke-linejoin="round"/>
<rect x="27.55" y="149.65" width="1.80" height="1.80" fill="#ff2020"/>
<rect x="28.78" y="149.00" width="1.80" height="1.80" fill="#ff2020"/>
<rect x="30.63" y="149.00" width="1.80" height="1.80" fill="#ff2020"/>
<rect x="34.58" y="152.24" width="1.80" height="1.80" fill="#ff2020"/>
<rect x="36.80" y="165.99" width="1.80" height="1.80" fill="#ff2020"/>
<rect x="38.03" y="173.62" width="1.80" height="1.80" fill="#ff2020"/>
<rect x="39.51" y="185.29" width="1.80" height="1.80" fill="#ff2020"/>
<rect x="41.12" y="188.58" width="1.80" height="1.80" fill="#ff2020"/>
<rect x="42.97" y="192.32" width="1.80" height="1.80" fill="#ff2020"/>
<rect x="44.82" y="195.92" width="1.80" height="1.80" fill="#ff2020"/>
<rect x="46.67" y="199.40" width="1.80" height="1.80" fill="#ff2020"/>
<rect x="48.52" y="202.78" width="1.80" height="1.80" fill="#ff2020"/>
<rect x="50.36" y="204.49" width="1.80" height="1.80" fill="#ff2020"/>
<rect x="52.21" y="206.10" width="1.80" height="1.80" fill="#ff2020"/>
<rect x="54.68" y="207.08" width="1.80" height="1.80" fill="#ff2020"/>
<rect x="56.53" y="207.55" width="1.80" height="1.80" fill="#ff2020"/>
<rect x="59.00" y="207.88" width="1.80" height="1.80" fill="#ff2020"/>
<rect x="60.85" y="206.95" width="1.80" height="1.80" fill="#ff2020"/>
<rect x="63.31" y="205.65" width="1.80" height="1.80" fill="#ff2020"/>
<rect x="65.16" y="204.54" width="1.80" height="1.80" fill="#ff2020"/>
<rect x="67.63" y="202.88" width="1.80" height="1.80" fill="#ff2020"/>
<rect x="70.10" y="200.65" width="1.80" height="1.80" fill="#ff2020"/>
<rect x="71.95" y="198.90" width="1.80" height="1.80" fill="#ff2020"/>
<rect x="74.41" y="196.30" width="1.80" height="1.80" fill="#ff2020"/>
<rect x="76.26" y="194.36" width="1.80" height="1.80" fill="#ff2020"/>
<rect x="78.73" y="191.77" width="1.80" height="1.80" fill="#ff2020"/>
<rect x="80.58" y="190.23" width="1.80" height="1.80" fill="#ff2020"/>
<rect x="84.89" y="188.53" width="1.80" height="1.80" fill="#ff2020"/>
<rect x="89.21" y="190.54" width="1.80" height="1.80" fill="#ff2020"/>
<rect x="93.53" y="191.01" width="1.80" height="1.80" fill="#ff2020"/>
<rect x="97.84" y="193.48" width="1.80" height="1.80" fill="#ff2020"/>
<rect x="102.16" y="193.36" width="1.80" height="1.80" fill="#ff2020"/>
<rect x="106.48" y="192.24" width="1.80" height="1.80" fill="#ff2020"/>
<rect x="110.79" y="192.09" width="1.80" height="1.80" fill="#ff2020"/>
<rect x="115.11" y="191.74" width="1.80" height="1.80" fill="#ff2020"/>
<rect x="119.42" y="191.12" width="1.80" height="1.80" fill="#ff2020"/>
<rect x="123.74" y="192.55" width="1.80" height="1.80" fill="#ff2020"/>
<rect x="128.06" y="192.36" width="1.80" height="1.80" fill="#ff2020"/>
<rect x="132.37" y="191.43" width="1.80" height="1.80" fill="#ff2020"/>
<polyline points="28.45,149.90 29.68,148.60 31.53,150.55 35.48,153.14 37.70,166.47 38.93,173.88 40.41,185.15 42.02,188.30 43.87,191.98 45.72,195.76 47.57,199.44 49.41,203.04 51.26,205.42 53.11,207.66 55.58,208.89 57.43,209.44 59.90,209.87 61.75,209.53 64.21,208.87 66.06,207.90 68.53,206.37 71.00,204.15 72.85,202.48 75.31,200.26 77.16,198.69 79.63,196.83 81.48,195.18 85.79,190.08 90.11,187.52 94.43,183.27 98.74,183.72 103.06,184.24 107.38,183.70 111.69,183.60 116.01,182.65 120.32,181.00 124.64,182.91 128.96,182.19 133.27,181.21" fill="none" stroke="#2020ff" stroke-width="0.8" stroke-linejoin="round"/>
<circle cx="28.45" cy="149.90" r="0.9" fill="#2020ff"/>
<circle cx="29.68" cy="148.60" r="0.9" fill="#2020ff"/>
<circle cx="31.53" cy="150.55" r="0.9" fill="#2020ff"/>
<circle cx="35.48" cy="153.14" r="0.9" fill="#2020ff"/>
<circle cx="37.70" cy="166.47" r="0.9" fill="#2020ff"/>
<circle cx="38.93" cy="173.88" r="0.9" fill="#2020ff"/>
<circle cx="40.41" cy="185.15" r="0.9" fill="#2020ff"/>
<circle cx="42.02" cy="188.30" r="0.9" fill="#2020ff"/>
<circle cx="43.87" cy="191.98" r="0.9" fill="#2020ff"/>
<circle cx="45.72" cy="195.76" r="0.9" fill="#2020ff"/>
<circle cx="47.57" cy="199.44" r="0.9" fill="#2020ff"/>
<circle cx="49.41" cy="203.04" r="0.9" fill="#2020ff"/>
<circle cx="51.26" cy="205.42" r="0.9" fill="#2020ff"/>
<circle cx="53.11" cy="207.66" r="0.9" fill="#2020ff"/>
<circle cx="55.58" cy="208.89" r="0.9" fill="#2020ff"/>
<circle cx="57.43" cy="209.44" r="0.9" fill="#2020ff"/>
<circle cx="59.90" cy="209.87" r="0.9" fill="#2020ff"/>
<circle cx="61.75" cy="209.53" r="0.9" fill="#2020ff"/>
<circle cx="64.21" cy="208.87" r="0.9" fill="#2020ff"/>
<circle cx="66.06" cy="207.90" r="0.9" fill="#2020ff"/>
<circle cx="68.53" cy="206.37" r="0.9" fill="#2020ff"/>
<circle cx="71.00" cy="204.15" r="0.9" fill="#2020ff"/>
<circle cx="72.85" cy="202.48" r="0.9" fill="#2020ff"/>
<circle cx="75.31" cy="200.26" r="0.9" fill="#2020ff"/>
<circle cx="77.16" cy="198.69" r="0.9" fill="#2020ff"/>
<circle cx="79.63" cy="196.83" r="0.9" fill="#2020ff"/>
<circle cx="81.48" cy="195.18" r="0.9" fill="#2020ff"/>
<circle cx="85.79" cy="190.08" r="0.9" fill="#2020ff"/>
<circle cx="90.11" cy="187.52" r="0.9" fill="#2020ff"/>
<circle cx="94.43" cy="183.27" r="0.9" fill="#2020ff"/>
<circle cx="98.74" cy="183.72" r="0.9" fill="#2020ff"/>
<circle cx="103.06" cy="184.24" r="0.9" fill="#2020ff"/>
<circle cx="107.38" cy="183.70" r="0.9" fill="#2020ff"/>
<circle cx="111.69" cy="183.60" r="0.9" fill="#2020ff"/>
<circle cx="116.01" cy="182.65" r="0.9" fill="#2020ff"/>
<circle cx="120.32" cy="181.00" r="0.9" fill="#2020ff"/>
<circle cx="124.64" cy="182.91" r="0.9" fill="#2020ff"/>
<circle cx="128.96" cy="182.19" r="0.9" fill="#2020ff"/>
<circle cx="133.27" cy="181.21" r="0.9" fill="#2020ff"/>
<text x="0" y="0" font-size="14.5" font-weight="bold" fill="#000" transform="translate(155.4 131) scale(0.88 1)">d</text>
<line x1="188.40" y1="136.25" x2="188.40" y2="215.30" stroke="#231f20" stroke-width="0.9"/>
<line x1="188.40" y1="215.30" x2="306.00" y2="215.30" stroke="#231f20" stroke-width="0.9"/>
<line x1="185.10" y1="215.30" x2="188.40" y2="215.30" stroke="#231f20" stroke-width="0.9"/>
<text x="182.80" y="217.80" font-size="7.2" text-anchor="end" font-weight="normal" fill="#111" stroke="#111" stroke-width="0.15">0</text>
<line x1="185.10" y1="188.95" x2="188.40" y2="188.95" stroke="#231f20" stroke-width="0.9"/>
<text x="182.80" y="191.45" font-size="7.2" text-anchor="end" font-weight="normal" fill="#111" stroke="#111" stroke-width="0.15">0.5</text>
<line x1="185.10" y1="162.60" x2="188.40" y2="162.60" stroke="#231f20" stroke-width="0.9"/>
<text x="182.80" y="165.10" font-size="7.2" text-anchor="end" font-weight="normal" fill="#111" stroke="#111" stroke-width="0.15">1.0</text>
<line x1="185.10" y1="136.25" x2="188.40" y2="136.25" stroke="#231f20" stroke-width="0.9"/>
<text x="182.80" y="138.75" font-size="7.2" text-anchor="end" font-weight="normal" fill="#111" stroke="#111" stroke-width="0.15">1.5</text>
<text x="161.50" y="174.00" font-size="7.3" text-anchor="middle" font-weight="normal" fill="#111" stroke="#111" stroke-width="0.15" transform="rotate(-90 161.5 174)">Relative peak thrombin</text>
<line x1="203.00" y1="144.16" x2="203.00" y2="162.60" stroke="#231f20" stroke-width="0.8"/>
<line x1="201.00" y1="144.16" x2="205.00" y2="144.16" stroke="#231f20" stroke-width="0.8"/>
<line x1="201.00" y1="162.60" x2="205.00" y2="162.60" stroke="#231f20" stroke-width="0.8"/>
<rect x="199.30" y="162.60" width="7.4" height="52.70" fill="#ffffff" stroke="#231f20" stroke-width="0.8"/>
<line x1="203.00" y1="215.30" x2="203.00" y2="218.60" stroke="#231f20" stroke-width="0.9"/>
<line x1="232.30" y1="190.00" x2="232.30" y2="195.01" stroke="#231f20" stroke-width="0.8"/>
<line x1="230.30" y1="190.00" x2="234.30" y2="190.00" stroke="#231f20" stroke-width="0.8"/>
<line x1="230.30" y1="195.01" x2="234.30" y2="195.01" stroke="#231f20" stroke-width="0.8"/>
<rect x="228.60" y="195.01" width="7.4" height="20.29" fill="#000000" stroke="#231f20" stroke-width="0.8"/>
<line x1="232.30" y1="215.30" x2="232.30" y2="218.60" stroke="#231f20" stroke-width="0.9"/>
<line x1="261.70" y1="179.99" x2="261.70" y2="184.00" stroke="#231f20" stroke-width="0.8"/>
<line x1="259.70" y1="179.99" x2="263.70" y2="179.99" stroke="#231f20" stroke-width="0.8"/>
<line x1="259.70" y1="184.00" x2="263.70" y2="184.00" stroke="#231f20" stroke-width="0.8"/>
<rect x="258.00" y="184.00" width="7.4" height="31.30" fill="#808080" stroke="#231f20" stroke-width="0.8"/>
<line x1="261.70" y1="215.30" x2="261.70" y2="218.60" stroke="#231f20" stroke-width="0.9"/>
<line x1="291.10" y1="148.58" x2="291.10" y2="162.60" stroke="#231f20" stroke-width="0.8"/>
<line x1="289.10" y1="148.58" x2="293.10" y2="148.58" stroke="#231f20" stroke-width="0.8"/>
<line x1="289.10" y1="162.60" x2="293.10" y2="162.60" stroke="#231f20" stroke-width="0.8"/>
<rect x="287.40" y="162.60" width="7.4" height="52.70" fill="#d3d3d3" stroke="#231f20" stroke-width="0.8"/>
<line x1="291.10" y1="215.30" x2="291.10" y2="218.60" stroke="#231f20" stroke-width="0.9"/>
<text x="203.30" y="226.30" font-size="7.2" text-anchor="middle" font-weight="normal" fill="#111" stroke="#111" stroke-width="0.15">Pre-dose</text>
<text x="232.30" y="226.30" font-size="7.2" text-anchor="middle" font-weight="normal" fill="#111" stroke="#111" stroke-width="0.15">PBS</text>
<text x="261.70" y="226.30" font-size="7.2" text-anchor="middle" font-weight="normal" fill="#111" stroke="#111" stroke-width="0.15">0.25</text>
<text x="261.70" y="235.00" font-size="7.2" text-anchor="middle" font-weight="normal" fill="#111" stroke="#111" stroke-width="0.15">mg/kg</text>
<text x="291.10" y="226.30" font-size="7.2" text-anchor="middle" font-weight="normal" fill="#111" stroke="#111" stroke-width="0.15">0.50</text>
<text x="291.10" y="235.00" font-size="7.2" text-anchor="middle" font-weight="normal" fill="#111" stroke="#111" stroke-width="0.15">mg/kg</text>
<polyline points="189.2,235.4 189.2,239.2 217.9,239.2 217.9,235.4" fill="none" stroke="#231f20" stroke-width="0.9"/>
<polyline points="219.2,235.4 219.2,239.2 305.6,239.2 305.6,235.4" fill="none" stroke="#231f20" stroke-width="0.9"/>
<text x="203.60" y="248.40" font-size="7.2" text-anchor="middle" font-weight="normal" fill="#111" stroke="#111" stroke-width="0.15">Normal</text>
<text x="262.40" y="248.40" font-size="7.2" text-anchor="middle" font-weight="normal" fill="#111" stroke="#111" stroke-width="0.15">Induced HA</text>
<polyline points="232.5,144.8 232.5,141.6 291,141.6 291,144.8" fill="none" stroke="#231f20" stroke-width="0.9"/>
<text x="261.60" y="140.90" font-size="9.5" text-anchor="middle" font-weight="normal" fill="#111" stroke="#111" stroke-width="0.15">**</text>
</svg></body></html>
